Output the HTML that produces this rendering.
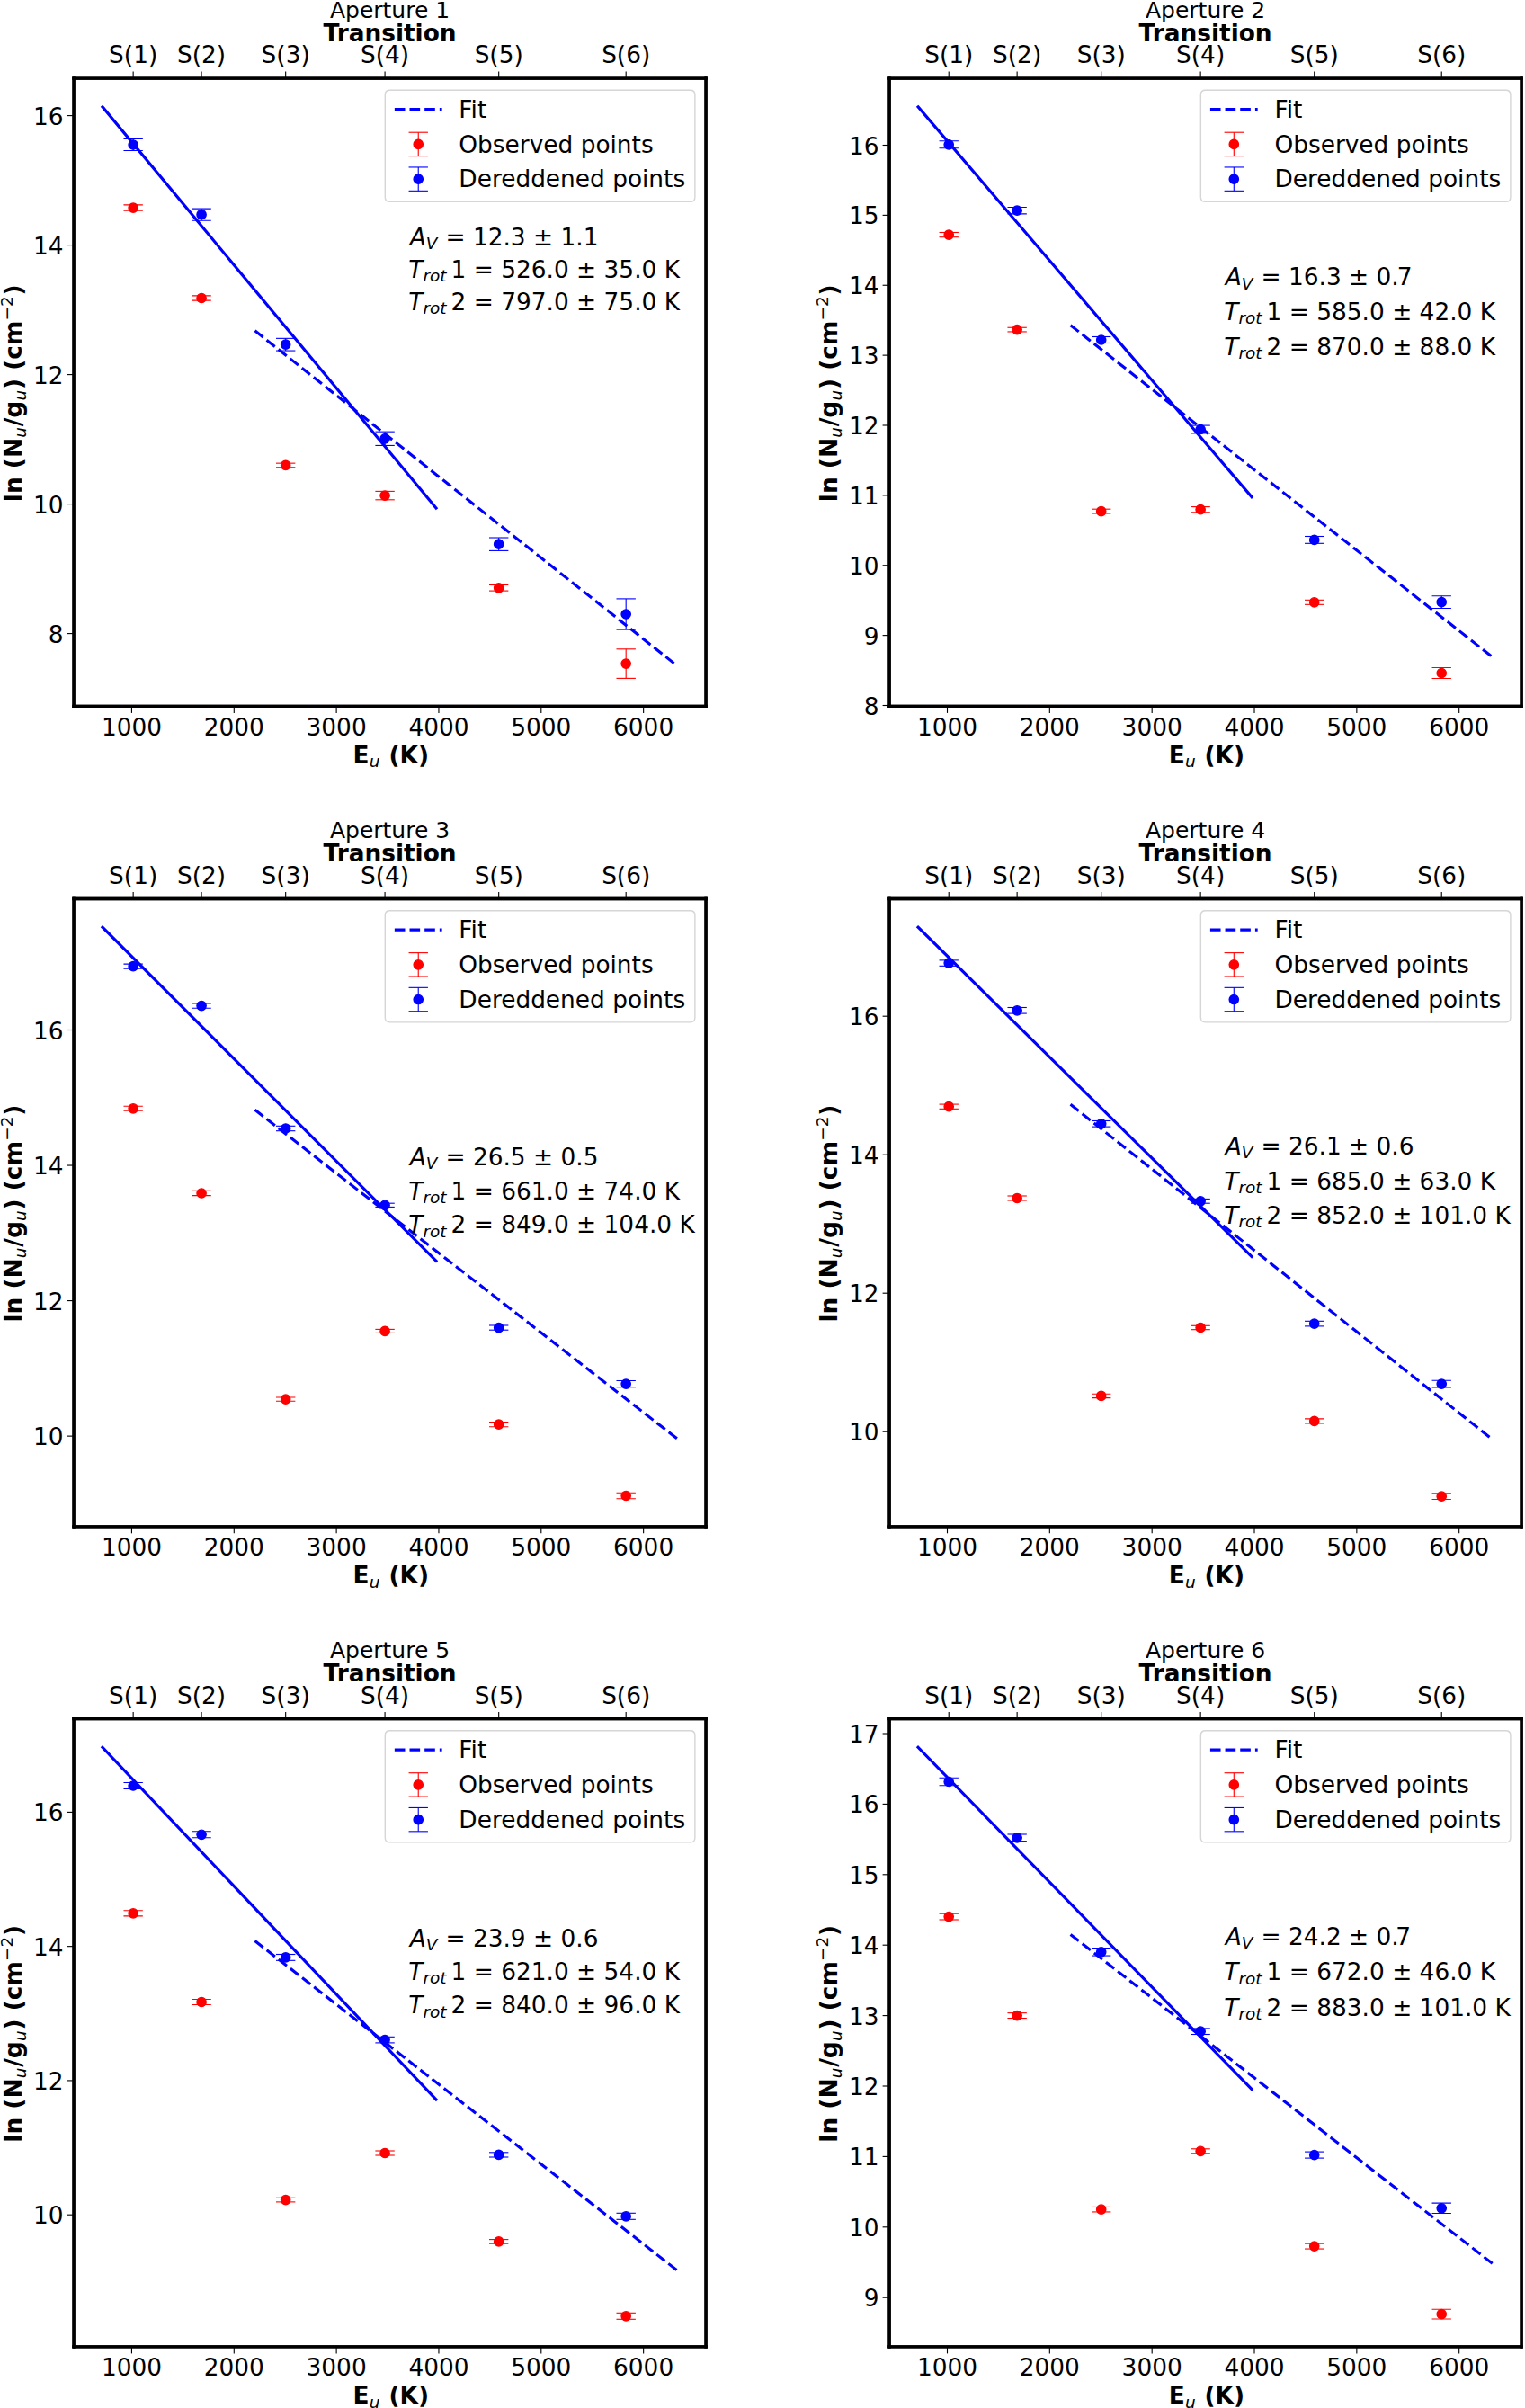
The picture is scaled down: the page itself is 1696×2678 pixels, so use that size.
<!DOCTYPE html>
<html lang="en"><head><meta charset="utf-8"><title>Rotation diagrams - Apertures 1-6</title>
<style>
html,body{margin:0;padding:0;background:#fff}
body{width:1696px;height:2678px;overflow:hidden}
svg{display:block}
svg text{font-family:"DejaVu Sans","Liberation Sans",sans-serif;white-space:pre}
</style></head><body>
<svg width="1696" height="2678" viewBox="0 0 1221.12 1928.16">
 <defs>
  <style type="text/css">*{stroke-linejoin: round; stroke-linecap: butt}</style>
 </defs>
 <g>
  <g>
   <path d="M 0 1928.16 L 1221.12 1928.16 L 1221.12 0 L 0 0 z" style="fill: #ffffff" />
  </g>
  <g>
   <g>
    <path d="M 59.08 565.49 L 565.24 565.49 L 565.24 62.71 L 59.08 62.71 z" style="fill: #ffffff" />
   </g>
   <g>
    <g>
     <g>
      <g>
       <path d="M105.44 565.49L105.44 570.89" style="stroke: #000000; stroke-width: 0.8" />
      </g>
     </g>
     <g>
      <text style="font-size: 19px; text-anchor: middle" x="105.44" y="588.83">1000</text>
     </g>
    </g>
    <g>
     <g>
      <g>
       <path d="M187.41 565.49L187.41 570.89" style="stroke: #000000; stroke-width: 0.8" />
      </g>
     </g>
     <g>
      <text style="font-size: 19px; text-anchor: middle" x="187.41" y="588.83">2000</text>
     </g>
    </g>
    <g>
     <g>
      <g>
       <path d="M269.37 565.49L269.37 570.89" style="stroke: #000000; stroke-width: 0.8" />
      </g>
     </g>
     <g>
      <text style="font-size: 19px; text-anchor: middle" x="269.37" y="588.83">3000</text>
     </g>
    </g>
    <g>
     <g>
      <g>
       <path d="M351.33 565.49L351.33 570.89" style="stroke: #000000; stroke-width: 0.8" />
      </g>
     </g>
     <g>
      <text style="font-size: 19px; text-anchor: middle" x="351.33" y="588.83">4000</text>
     </g>
    </g>
    <g>
     <g>
      <g>
       <path d="M433.3 565.49L433.3 570.89" style="stroke: #000000; stroke-width: 0.8" />
      </g>
     </g>
     <g>
      <text style="font-size: 19px; text-anchor: middle" x="433.3" y="588.83">5000</text>
     </g>
    </g>
    <g>
     <g>
      <g>
       <path d="M515.26 565.49L515.26 570.89" style="stroke: #000000; stroke-width: 0.8" />
      </g>
     </g>
     <g>
      <text style="font-size: 19px; text-anchor: middle" x="515.26" y="588.83">6000</text>
     </g>
    </g>
    <g>
     <g transform="translate(282.67 611.71)">
      <text><tspan x="0" y="-0.58" style="font-weight: 700; font-size: 19px">E</tspan><tspan x="22.11" y="-0.58" style="font-weight: 700; font-size: 19px"> (K)</tspan><tspan x="13.16" y="2.54" style="font-style: oblique; font-size: 13.3px">u</tspan></text>
     </g>
    </g>
   </g>
   <g>
    <g>
     <g>
      <g>
       <path d="M59.08 507.31L53.68 507.31" style="stroke: #000000; stroke-width: 0.8" />
      </g>
     </g>
     <g>
      <text style="font-size: 19px; text-anchor: end" x="50.78" y="514.53">8</text>
     </g>
    </g>
    <g>
     <g>
      <g>
       <path d="M59.08 403.63L53.68 403.63" style="stroke: #000000; stroke-width: 0.8" />
      </g>
     </g>
     <g>
      <text style="font-size: 19px; text-anchor: end" x="50.78" y="410.85">10</text>
     </g>
    </g>
    <g>
     <g>
      <g>
       <path d="M59.08 299.95L53.68 299.95" style="stroke: #000000; stroke-width: 0.8" />
      </g>
     </g>
     <g>
      <text style="font-size: 19px; text-anchor: end" x="50.78" y="307.17">12</text>
     </g>
    </g>
    <g>
     <g>
      <g>
       <path d="M59.08 196.27L53.68 196.27" style="stroke: #000000; stroke-width: 0.8" />
      </g>
     </g>
     <g>
      <text style="font-size: 19px; text-anchor: end" x="50.78" y="203.49">14</text>
     </g>
    </g>
    <g>
     <g>
      <g>
       <path d="M59.08 92.59L53.68 92.59" style="stroke: #000000; stroke-width: 0.8" />
      </g>
     </g>
     <g>
      <text style="font-size: 19px; text-anchor: end" x="50.78" y="99.81">16</text>
     </g>
    </g>
    <g>
     <g transform="translate(18.42 401.86) rotate(-90)">
      <text><tspan x="0" y="-0.85" style="font-weight: 700; font-size: 19px">ln (N</tspan><tspan x="60.37" y="-0.85" style="font-weight: 700; font-size: 19px">/g</tspan><tspan x="90.04" y="-0.85" style="font-weight: 700; font-size: 19px">) (cm</tspan><tspan x="165.39" y="-0.85" style="font-weight: 700; font-size: 19px">)</tspan><tspan x="51.42" y="2.27" style="font-style: oblique; font-size: 13.3px">u</tspan><tspan x="81.09" y="2.27" style="font-style: oblique; font-size: 13.3px">u</tspan><tspan x="145.26" y="-8.12" style="font-size: 13.3px">−2</tspan></text>
     </g>
    </g>
   </g>
   <g>
    <path d="M 106.67 168.7 L 106.67 164.09" clip-path="url(#p3b5efa5319)" style="fill: none; stroke: #ff0000; stroke-width: 0.8" />
    <path d="M 161.34 240.55 L 161.34 236.81" clip-path="url(#p3b5efa5319)" style="fill: none; stroke: #ff0000; stroke-width: 0.8" />
    <path d="M 228.72 374.22 L 228.72 370.91" clip-path="url(#p3b5efa5319)" style="fill: none; stroke: #ff0000; stroke-width: 0.8" />
    <path d="M 308.22 400.18 L 308.22 393.41" clip-path="url(#p3b5efa5319)" style="fill: none; stroke: #ff0000; stroke-width: 0.8" />
    <path d="M 399.37 473.11 L 399.37 468.36" clip-path="url(#p3b5efa5319)" style="fill: none; stroke: #ff0000; stroke-width: 0.8" />
    <path d="M 501.25 543.17 L 501.25 519.7" clip-path="url(#p3b5efa5319)" style="fill: none; stroke: #ff0000; stroke-width: 0.8" />
   </g>
   <g>
    <g clip-path="url(#p3b5efa5319)">
     <path d="M114.37 168.7L98.97 168.7" style="fill: #ff0000; stroke: #ff0000; stroke-width: 0.8" />
     <path d="M169.04 240.55L153.64 240.55" style="fill: #ff0000; stroke: #ff0000; stroke-width: 0.8" />
     <path d="M236.42 374.22L221.02 374.22" style="fill: #ff0000; stroke: #ff0000; stroke-width: 0.8" />
     <path d="M315.92 400.18L300.52 400.18" style="fill: #ff0000; stroke: #ff0000; stroke-width: 0.8" />
     <path d="M407.07 473.11L391.67 473.11" style="fill: #ff0000; stroke: #ff0000; stroke-width: 0.8" />
     <path d="M508.95 543.17L493.55 543.17" style="fill: #ff0000; stroke: #ff0000; stroke-width: 0.8" />
    </g>
   </g>
   <g>
    <g clip-path="url(#p3b5efa5319)">
     <path d="M114.37 164.09L98.97 164.09" style="fill: #ff0000; stroke: #ff0000; stroke-width: 0.8" />
     <path d="M169.04 236.81L153.64 236.81" style="fill: #ff0000; stroke: #ff0000; stroke-width: 0.8" />
     <path d="M236.42 370.91L221.02 370.91" style="fill: #ff0000; stroke: #ff0000; stroke-width: 0.8" />
     <path d="M315.92 393.41L300.52 393.41" style="fill: #ff0000; stroke: #ff0000; stroke-width: 0.8" />
     <path d="M407.07 468.36L391.67 468.36" style="fill: #ff0000; stroke: #ff0000; stroke-width: 0.8" />
     <path d="M508.95 519.7L493.55 519.7" style="fill: #ff0000; stroke: #ff0000; stroke-width: 0.8" />
    </g>
   </g>
   <g>
    <path d="M 106.67 120.6 L 106.67 111.24" clip-path="url(#p3b5efa5319)" style="fill: none; stroke: #0000ff; stroke-width: 0.8" />
    <path d="M 161.34 176.62 L 161.34 167.11" clip-path="url(#p3b5efa5319)" style="fill: none; stroke: #0000ff; stroke-width: 0.8" />
    <path d="M 228.72 280.84 L 228.72 270.97" clip-path="url(#p3b5efa5319)" style="fill: none; stroke: #0000ff; stroke-width: 0.8" />
    <path d="M 308.22 356.72 L 308.22 345.71" clip-path="url(#p3b5efa5319)" style="fill: none; stroke: #0000ff; stroke-width: 0.8" />
    <path d="M 399.37 440.93 L 399.37 430.56" clip-path="url(#p3b5efa5319)" style="fill: none; stroke: #0000ff; stroke-width: 0.8" />
    <path d="M 501.25 504.07 L 501.25 479.45" clip-path="url(#p3b5efa5319)" style="fill: none; stroke: #0000ff; stroke-width: 0.8" />
   </g>
   <g>
    <g clip-path="url(#p3b5efa5319)">
     <path d="M114.37 120.6L98.97 120.6" style="fill: #0000ff; stroke: #0000ff; stroke-width: 0.8" />
     <path d="M169.04 176.62L153.64 176.62" style="fill: #0000ff; stroke: #0000ff; stroke-width: 0.8" />
     <path d="M236.42 280.84L221.02 280.84" style="fill: #0000ff; stroke: #0000ff; stroke-width: 0.8" />
     <path d="M315.92 356.72L300.52 356.72" style="fill: #0000ff; stroke: #0000ff; stroke-width: 0.8" />
     <path d="M407.07 440.93L391.67 440.93" style="fill: #0000ff; stroke: #0000ff; stroke-width: 0.8" />
     <path d="M508.95 504.07L493.55 504.07" style="fill: #0000ff; stroke: #0000ff; stroke-width: 0.8" />
    </g>
   </g>
   <g>
    <g clip-path="url(#p3b5efa5319)">
     <path d="M114.37 111.24L98.97 111.24" style="fill: #0000ff; stroke: #0000ff; stroke-width: 0.8" />
     <path d="M169.04 167.11L153.64 167.11" style="fill: #0000ff; stroke: #0000ff; stroke-width: 0.8" />
     <path d="M236.42 270.97L221.02 270.97" style="fill: #0000ff; stroke: #0000ff; stroke-width: 0.8" />
     <path d="M315.92 345.71L300.52 345.71" style="fill: #0000ff; stroke: #0000ff; stroke-width: 0.8" />
     <path d="M407.07 430.56L391.67 430.56" style="fill: #0000ff; stroke: #0000ff; stroke-width: 0.8" />
     <path d="M508.95 479.45L493.55 479.45" style="fill: #0000ff; stroke: #0000ff; stroke-width: 0.8" />
    </g>
   </g>
   <g>
    <path d="M 82.08 85.57 L 349.2 406.76" clip-path="url(#p3b5efa5319)" style="fill: none; stroke: #0000ff; stroke-width: 2.264; stroke-linecap: square" />
   </g>
   <g>
    <path d="M 204.13 264.82 L 542.23 533.12" clip-path="url(#p3b5efa5319)" style="fill: none; stroke-dasharray: 8.3768,3.6224; stroke-dashoffset: 0; stroke: #0000ff; stroke-width: 2.264" />
   </g>
   <g>
    <g clip-path="url(#p3b5efa5319)">
     <circle cx="106.67" cy="166.39" r="3.7" style="fill: #ff0000; stroke: #ff0000" />
     <circle cx="161.34" cy="238.68" r="3.7" style="fill: #ff0000; stroke: #ff0000" />
     <circle cx="228.72" cy="372.56" r="3.7" style="fill: #ff0000; stroke: #ff0000" />
     <circle cx="308.22" cy="396.79" r="3.7" style="fill: #ff0000; stroke: #ff0000" />
     <circle cx="399.37" cy="470.74" r="3.7" style="fill: #ff0000; stroke: #ff0000" />
     <circle cx="501.25" cy="531.43" r="3.7" style="fill: #ff0000; stroke: #ff0000" />
    </g>
   </g>
   <g>
    <g clip-path="url(#p3b5efa5319)">
     <circle cx="106.67" cy="115.92" r="3.7" style="fill: #0000ff; stroke: #0000ff" />
     <circle cx="161.34" cy="171.86" r="3.7" style="fill: #0000ff; stroke: #0000ff" />
     <circle cx="228.72" cy="275.9" r="3.7" style="fill: #0000ff; stroke: #0000ff" />
     <circle cx="308.22" cy="351.22" r="3.7" style="fill: #0000ff; stroke: #0000ff" />
     <circle cx="399.37" cy="435.74" r="3.7" style="fill: #0000ff; stroke: #0000ff" />
     <circle cx="501.25" cy="491.76" r="3.7" style="fill: #0000ff; stroke: #0000ff" />
    </g>
   </g>
   <g>
    <path d="M 59.08 565.49 L 59.08 62.71" style="fill: none; stroke: #000000; stroke-width: 2.35; stroke-linejoin: miter; stroke-linecap: square" />
   </g>
   <g>
    <path d="M 565.24 565.49 L 565.24 62.71" style="fill: none; stroke: #000000; stroke-width: 2.35; stroke-linejoin: miter; stroke-linecap: square" />
   </g>
   <g>
    <path d="M 59.08 565.49 L 565.24 565.49" style="fill: none; stroke: #000000; stroke-width: 2.35; stroke-linejoin: miter; stroke-linecap: square" />
   </g>
   <g>
    <path d="M 59.08 62.71 L 565.24 62.71" style="fill: none; stroke: #000000; stroke-width: 2.35; stroke-linejoin: miter; stroke-linecap: square" />
   </g>
   <g>
    <g transform="translate(328.05 197.12)">
     <text><tspan x="0" y="-0.89" style="font-style: oblique; font-size: 19px">A</tspan><tspan x="13" y="2.23" style="font-style: oblique; font-size: 13.3px">V</tspan><tspan x="22.62" y="-0.89" style="font-size: 19px"> = 12.3 ± 1.1</tspan></text>
    </g>
   </g>
   <g>
    <g transform="translate(327.1 223.04)">
     <text><tspan x="0" y="-0.89" style="font-style: oblique; font-size: 19px">T</tspan><tspan x="11.61" y="2.23" style="font-style: oblique; font-size: 13.3px">rot</tspan><tspan x="34.03" y="-0.89" style="font-size: 19px">1 = 526.0 ± 35.0 K</tspan></text>
    </g>
   </g>
   <g>
    <g transform="translate(327.1 248.96)">
     <text><tspan x="0" y="-0.89" style="font-style: oblique; font-size: 19px">T</tspan><tspan x="11.61" y="2.23" style="font-style: oblique; font-size: 13.3px">rot</tspan><tspan x="34.03" y="-0.89" style="font-size: 19px">2 = 797.0 ± 75.0 K</tspan></text>
    </g>
   </g>
   <g>
    <text style="font-size: 18px; text-anchor: middle" x="312.16" y="14.04">Aperture 1</text>
   </g>
   <g>
    <g>
     <path d="M 312.17 161.58 L 552.66 161.58 Q 556.46 161.58 556.46 157.78 L 556.46 76.01 Q 556.46 72.21 552.66 72.21 L 312.17 72.21 Q 308.37 72.21 308.37 76.01 L 308.37 157.78 Q 308.37 161.58 312.17 161.58 z" style="fill: #ffffff; opacity: 0.8; stroke: #cccccc; stroke-linejoin: miter" />
    </g>
    <g>
     <path d="M 315.97 87.6 L 334.97 87.6 L 353.97 87.6" style="fill: none; stroke-dasharray: 8.3768,3.6224; stroke-dashoffset: 0; stroke: #0000ff; stroke-width: 2.264" />
    </g>
    <g>
     <text style="font-size: 19px; text-anchor: start" x="367.46" y="94.25">Fit</text>
    </g>
    <g>
     <path d="M 334.97 124.99 L 334.97 105.99" style="fill: none; stroke: #ff0000; stroke-width: 0.8" />
    </g>
    <g>
     <g>
      <path d="M342.67 124.99L327.27 124.99" style="fill: #ff0000; stroke: #ff0000; stroke-width: 0.8" />
     </g>
    </g>
    <g>
     <g>
      <path d="M342.67 105.99L327.27 105.99" style="fill: #ff0000; stroke: #ff0000; stroke-width: 0.8" />
     </g>
    </g>
    <g />
    <g>
     <g>
      <circle cx="334.97" cy="115.49" r="3.7" style="fill: #ff0000; stroke: #ff0000" />
     </g>
    </g>
    <g>
     <text style="font-size: 19px; text-anchor: start" x="367.46" y="122.14">Observed points</text>
    </g>
    <g>
     <path d="M 334.97 152.88 L 334.97 133.88" style="fill: none; stroke: #0000ff; stroke-width: 0.8" />
    </g>
    <g>
     <g>
      <path d="M342.67 152.88L327.27 152.88" style="fill: #0000ff; stroke: #0000ff; stroke-width: 0.8" />
     </g>
    </g>
    <g>
     <g>
      <path d="M342.67 133.88L327.27 133.88" style="fill: #0000ff; stroke: #0000ff; stroke-width: 0.8" />
     </g>
    </g>
    <g />
    <g>
     <g>
      <circle cx="334.97" cy="143.38" r="3.7" style="fill: #0000ff; stroke: #0000ff" />
     </g>
    </g>
    <g>
     <text style="font-size: 19px; text-anchor: start" x="367.46" y="150.03">Dereddened points</text>
    </g>
   </g>
  </g>
  <g>
   <g>
    <g>
     <g>
      <g>
       <path d="M106.67 62.71L106.67 57.31" style="stroke: #000000; stroke-width: 0.8" />
      </g>
     </g>
     <g>
      <text style="font-size: 19px; text-anchor: middle" x="106.67" y="50.61">S(1)</text>
     </g>
    </g>
    <g>
     <g>
      <g>
       <path d="M161.34 62.71L161.34 57.31" style="stroke: #000000; stroke-width: 0.8" />
      </g>
     </g>
     <g>
      <text style="font-size: 19px; text-anchor: middle" x="161.34" y="50.61">S(2)</text>
     </g>
    </g>
    <g>
     <g>
      <g>
       <path d="M228.72 62.71L228.72 57.31" style="stroke: #000000; stroke-width: 0.8" />
      </g>
     </g>
     <g>
      <text style="font-size: 19px; text-anchor: middle" x="228.72" y="50.61">S(3)</text>
     </g>
    </g>
    <g>
     <g>
      <g>
       <path d="M308.22 62.71L308.22 57.31" style="stroke: #000000; stroke-width: 0.8" />
      </g>
     </g>
     <g>
      <text style="font-size: 19px; text-anchor: middle" x="308.22" y="50.61">S(4)</text>
     </g>
    </g>
    <g>
     <g>
      <g>
       <path d="M399.37 62.71L399.37 57.31" style="stroke: #000000; stroke-width: 0.8" />
      </g>
     </g>
     <g>
      <text style="font-size: 19px; text-anchor: middle" x="399.37" y="50.61">S(5)</text>
     </g>
    </g>
    <g>
     <g>
      <g>
       <path d="M501.25 62.71L501.25 57.31" style="stroke: #000000; stroke-width: 0.8" />
      </g>
     </g>
     <g>
      <text style="font-size: 19px; text-anchor: middle" x="501.25" y="50.61">S(6)</text>
     </g>
    </g>
    <g>
     <text style="font-weight: 700; font-size: 19px; text-anchor: middle" x="312.16" y="33.04">Transition</text>
    </g>
   </g>
   <g>
    <path d="M 59.08 565.49 L 59.08 62.71" style="fill: none; stroke: #000000; stroke-width: 2.35; stroke-linejoin: miter; stroke-linecap: square" />
   </g>
   <g>
    <path d="M 565.24 565.49 L 565.24 62.71" style="fill: none; stroke: #000000; stroke-width: 2.35; stroke-linejoin: miter; stroke-linecap: square" />
   </g>
   <g>
    <path d="M 59.08 565.49 L 565.24 565.49" style="fill: none; stroke: #000000; stroke-width: 2.35; stroke-linejoin: miter; stroke-linecap: square" />
   </g>
   <g>
    <path d="M 59.08 62.71 L 565.24 62.71" style="fill: none; stroke: #000000; stroke-width: 2.35; stroke-linejoin: miter; stroke-linecap: square" />
   </g>
  </g>
  <g>
   <g>
    <path d="M 712.15 565.49 L 1218.31 565.49 L 1218.31 62.71 L 712.15 62.71 z" style="fill: #ffffff" />
   </g>
   <g>
    <g>
     <g>
      <g>
       <path d="M758.52 565.49L758.52 570.89" style="stroke: #000000; stroke-width: 0.8" />
      </g>
     </g>
     <g>
      <text style="font-size: 19px; text-anchor: middle" x="758.52" y="588.83">1000</text>
     </g>
    </g>
    <g>
     <g>
      <g>
       <path d="M840.48 565.49L840.48 570.89" style="stroke: #000000; stroke-width: 0.8" />
      </g>
     </g>
     <g>
      <text style="font-size: 19px; text-anchor: middle" x="840.48" y="588.83">2000</text>
     </g>
    </g>
    <g>
     <g>
      <g>
       <path d="M922.45 565.49L922.45 570.89" style="stroke: #000000; stroke-width: 0.8" />
      </g>
     </g>
     <g>
      <text style="font-size: 19px; text-anchor: middle" x="922.45" y="588.83">3000</text>
     </g>
    </g>
    <g>
     <g>
      <g>
       <path d="M1004.41 565.49L1004.41 570.89" style="stroke: #000000; stroke-width: 0.8" />
      </g>
     </g>
     <g>
      <text style="font-size: 19px; text-anchor: middle" x="1004.41" y="588.83">4000</text>
     </g>
    </g>
    <g>
     <g>
      <g>
       <path d="M1086.37 565.49L1086.37 570.89" style="stroke: #000000; stroke-width: 0.8" />
      </g>
     </g>
     <g>
      <text style="font-size: 19px; text-anchor: middle" x="1086.37" y="588.83">5000</text>
     </g>
    </g>
    <g>
     <g>
      <g>
       <path d="M1168.34 565.49L1168.34 570.89" style="stroke: #000000; stroke-width: 0.8" />
      </g>
     </g>
     <g>
      <text style="font-size: 19px; text-anchor: middle" x="1168.34" y="588.83">6000</text>
     </g>
    </g>
    <g>
     <g transform="translate(935.75 611.71)">
      <text><tspan x="0" y="-0.58" style="font-weight: 700; font-size: 19px">E</tspan><tspan x="22.11" y="-0.58" style="font-weight: 700; font-size: 19px"> (K)</tspan><tspan x="13.16" y="2.54" style="font-style: oblique; font-size: 13.3px">u</tspan></text>
     </g>
    </g>
   </g>
   <g>
    <g>
     <g>
      <g>
       <path d="M712.15 564.84L706.75 564.84" style="stroke: #000000; stroke-width: 0.8" />
      </g>
     </g>
     <g>
      <text style="font-size: 19px; text-anchor: end" x="703.85" y="572.06">8</text>
     </g>
    </g>
    <g>
     <g>
      <g>
       <path d="M712.15 508.77L706.75 508.77" style="stroke: #000000; stroke-width: 0.8" />
      </g>
     </g>
     <g>
      <text style="font-size: 19px; text-anchor: end" x="703.85" y="515.99">9</text>
     </g>
    </g>
    <g>
     <g>
      <g>
       <path d="M712.15 452.7L706.75 452.7" style="stroke: #000000; stroke-width: 0.8" />
      </g>
     </g>
     <g>
      <text style="font-size: 19px; text-anchor: end" x="703.85" y="459.92">10</text>
     </g>
    </g>
    <g>
     <g>
      <g>
       <path d="M712.15 396.63L706.75 396.63" style="stroke: #000000; stroke-width: 0.8" />
      </g>
     </g>
     <g>
      <text style="font-size: 19px; text-anchor: end" x="703.85" y="403.85">11</text>
     </g>
    </g>
    <g>
     <g>
      <g>
       <path d="M712.15 340.56L706.75 340.56" style="stroke: #000000; stroke-width: 0.8" />
      </g>
     </g>
     <g>
      <text style="font-size: 19px; text-anchor: end" x="703.85" y="347.78">12</text>
     </g>
    </g>
    <g>
     <g>
      <g>
       <path d="M712.15 284.49L706.75 284.49" style="stroke: #000000; stroke-width: 0.8" />
      </g>
     </g>
     <g>
      <text style="font-size: 19px; text-anchor: end" x="703.85" y="291.71">13</text>
     </g>
    </g>
    <g>
     <g>
      <g>
       <path d="M712.15 228.42L706.75 228.42" style="stroke: #000000; stroke-width: 0.8" />
      </g>
     </g>
     <g>
      <text style="font-size: 19px; text-anchor: end" x="703.85" y="235.64">14</text>
     </g>
    </g>
    <g>
     <g>
      <g>
       <path d="M712.15 172.35L706.75 172.35" style="stroke: #000000; stroke-width: 0.8" />
      </g>
     </g>
     <g>
      <text style="font-size: 19px; text-anchor: end" x="703.85" y="179.57">15</text>
     </g>
    </g>
    <g>
     <g>
      <g>
       <path d="M712.15 116.28L706.75 116.28" style="stroke: #000000; stroke-width: 0.8" />
      </g>
     </g>
     <g>
      <text style="font-size: 19px; text-anchor: end" x="703.85" y="123.5">16</text>
     </g>
    </g>
    <g>
     <g transform="translate(671.49 401.86) rotate(-90)">
      <text><tspan x="0" y="-0.85" style="font-weight: 700; font-size: 19px">ln (N</tspan><tspan x="60.37" y="-0.85" style="font-weight: 700; font-size: 19px">/g</tspan><tspan x="90.04" y="-0.85" style="font-weight: 700; font-size: 19px">) (cm</tspan><tspan x="165.39" y="-0.85" style="font-weight: 700; font-size: 19px">)</tspan><tspan x="51.42" y="2.27" style="font-style: oblique; font-size: 13.3px">u</tspan><tspan x="81.09" y="2.27" style="font-style: oblique; font-size: 13.3px">u</tspan><tspan x="145.26" y="-8.12" style="font-size: 13.3px">−2</tspan></text>
     </g>
    </g>
   </g>
   <g>
    <path d="M 759.75 189.86 L 759.75 186.12" clip-path="url(#pbabdf00de8)" style="fill: none; stroke: #ff0000; stroke-width: 0.8" />
    <path d="M 814.42 265.64 L 814.42 262.26" clip-path="url(#pbabdf00de8)" style="fill: none; stroke: #ff0000; stroke-width: 0.8" />
    <path d="M 881.79 411.12 L 881.79 407.66" clip-path="url(#pbabdf00de8)" style="fill: none; stroke: #ff0000; stroke-width: 0.8" />
    <path d="M 961.3 410.26 L 961.3 405.79" clip-path="url(#pbabdf00de8)" style="fill: none; stroke: #ff0000; stroke-width: 0.8" />
    <path d="M 1052.44 484.06 L 1052.44 480.46" clip-path="url(#pbabdf00de8)" style="fill: none; stroke: #ff0000; stroke-width: 0.8" />
    <path d="M 1154.32 543.28 L 1154.32 534.56" clip-path="url(#pbabdf00de8)" style="fill: none; stroke: #ff0000; stroke-width: 0.8" />
   </g>
   <g>
    <g clip-path="url(#pbabdf00de8)">
     <path d="M767.45 189.86L752.05 189.86" style="fill: #ff0000; stroke: #ff0000; stroke-width: 0.8" />
     <path d="M822.12 265.64L806.72 265.64" style="fill: #ff0000; stroke: #ff0000; stroke-width: 0.8" />
     <path d="M889.49 411.12L874.09 411.12" style="fill: #ff0000; stroke: #ff0000; stroke-width: 0.8" />
     <path d="M969 410.26L953.6 410.26" style="fill: #ff0000; stroke: #ff0000; stroke-width: 0.8" />
     <path d="M1060.14 484.06L1044.74 484.06" style="fill: #ff0000; stroke: #ff0000; stroke-width: 0.8" />
     <path d="M1162.02 543.28L1146.62 543.28" style="fill: #ff0000; stroke: #ff0000; stroke-width: 0.8" />
    </g>
   </g>
   <g>
    <g clip-path="url(#pbabdf00de8)">
     <path d="M767.45 186.12L752.05 186.12" style="fill: #ff0000; stroke: #ff0000; stroke-width: 0.8" />
     <path d="M822.12 262.26L806.72 262.26" style="fill: #ff0000; stroke: #ff0000; stroke-width: 0.8" />
     <path d="M889.49 407.66L874.09 407.66" style="fill: #ff0000; stroke: #ff0000; stroke-width: 0.8" />
     <path d="M969 405.79L953.6 405.79" style="fill: #ff0000; stroke: #ff0000; stroke-width: 0.8" />
     <path d="M1060.14 480.46L1044.74 480.46" style="fill: #ff0000; stroke: #ff0000; stroke-width: 0.8" />
     <path d="M1162.02 534.56L1146.62 534.56" style="fill: #ff0000; stroke: #ff0000; stroke-width: 0.8" />
    </g>
   </g>
   <g>
    <path d="M 759.75 118.66 L 759.75 112.9" clip-path="url(#pbabdf00de8)" style="fill: none; stroke: #0000ff; stroke-width: 0.8" />
    <path d="M 814.42 171.25 L 814.42 166" clip-path="url(#pbabdf00de8)" style="fill: none; stroke: #0000ff; stroke-width: 0.8" />
    <path d="M 881.79 274.68 L 881.79 269.64" clip-path="url(#pbabdf00de8)" style="fill: none; stroke: #0000ff; stroke-width: 0.8" />
    <path d="M 961.3 346.97 L 961.3 340.63" clip-path="url(#pbabdf00de8)" style="fill: none; stroke: #0000ff; stroke-width: 0.8" />
    <path d="M 1052.44 435.1 L 1052.44 429.48" clip-path="url(#pbabdf00de8)" style="fill: none; stroke: #0000ff; stroke-width: 0.8" />
    <path d="M 1154.32 487.04 L 1154.32 477.18" clip-path="url(#pbabdf00de8)" style="fill: none; stroke: #0000ff; stroke-width: 0.8" />
   </g>
   <g>
    <g clip-path="url(#pbabdf00de8)">
     <path d="M767.45 118.66L752.05 118.66" style="fill: #0000ff; stroke: #0000ff; stroke-width: 0.8" />
     <path d="M822.12 171.25L806.72 171.25" style="fill: #0000ff; stroke: #0000ff; stroke-width: 0.8" />
     <path d="M889.49 274.68L874.09 274.68" style="fill: #0000ff; stroke: #0000ff; stroke-width: 0.8" />
     <path d="M969 346.97L953.6 346.97" style="fill: #0000ff; stroke: #0000ff; stroke-width: 0.8" />
     <path d="M1060.14 435.1L1044.74 435.1" style="fill: #0000ff; stroke: #0000ff; stroke-width: 0.8" />
     <path d="M1162.02 487.04L1146.62 487.04" style="fill: #0000ff; stroke: #0000ff; stroke-width: 0.8" />
    </g>
   </g>
   <g>
    <g clip-path="url(#pbabdf00de8)">
     <path d="M767.45 112.9L752.05 112.9" style="fill: #0000ff; stroke: #0000ff; stroke-width: 0.8" />
     <path d="M822.12 166L806.72 166" style="fill: #0000ff; stroke: #0000ff; stroke-width: 0.8" />
     <path d="M889.49 269.64L874.09 269.64" style="fill: #0000ff; stroke: #0000ff; stroke-width: 0.8" />
     <path d="M969 340.63L953.6 340.63" style="fill: #0000ff; stroke: #0000ff; stroke-width: 0.8" />
     <path d="M1060.14 429.48L1044.74 429.48" style="fill: #0000ff; stroke: #0000ff; stroke-width: 0.8" />
     <path d="M1162.02 477.18L1146.62 477.18" style="fill: #0000ff; stroke: #0000ff; stroke-width: 0.8" />
    </g>
   </g>
   <g>
    <path d="M 735.16 85.57 L 1002.28 397.93" clip-path="url(#pbabdf00de8)" style="fill: none; stroke: #0000ff; stroke-width: 2.264; stroke-linecap: square" />
   </g>
   <g>
    <path d="M 857.2 260.42 L 1195.3 526.27" clip-path="url(#pbabdf00de8)" style="fill: none; stroke-dasharray: 8.3768,3.6224; stroke-dashoffset: 0; stroke: #0000ff; stroke-width: 2.264" />
   </g>
   <g>
    <g clip-path="url(#pbabdf00de8)">
     <circle cx="759.75" cy="187.99" r="3.7" style="fill: #ff0000; stroke: #ff0000" />
     <circle cx="814.42" cy="263.95" r="3.7" style="fill: #ff0000; stroke: #ff0000" />
     <circle cx="881.79" cy="409.39" r="3.7" style="fill: #ff0000; stroke: #ff0000" />
     <circle cx="961.3" cy="408.02" r="3.7" style="fill: #ff0000; stroke: #ff0000" />
     <circle cx="1052.44" cy="482.26" r="3.7" style="fill: #ff0000; stroke: #ff0000" />
     <circle cx="1154.32" cy="538.92" r="3.7" style="fill: #ff0000; stroke: #ff0000" />
    </g>
   </g>
   <g>
    <g clip-path="url(#pbabdf00de8)">
     <circle cx="759.75" cy="115.78" r="3.7" style="fill: #0000ff; stroke: #0000ff" />
     <circle cx="814.42" cy="168.62" r="3.7" style="fill: #0000ff; stroke: #0000ff" />
     <circle cx="881.79" cy="272.16" r="3.7" style="fill: #0000ff; stroke: #0000ff" />
     <circle cx="961.3" cy="343.8" r="3.7" style="fill: #0000ff; stroke: #0000ff" />
     <circle cx="1052.44" cy="432.29" r="3.7" style="fill: #0000ff; stroke: #0000ff" />
     <circle cx="1154.32" cy="482.11" r="3.7" style="fill: #0000ff; stroke: #0000ff" />
    </g>
   </g>
   <g>
    <path d="M 712.15 565.49 L 712.15 62.71" style="fill: none; stroke: #000000; stroke-width: 2.35; stroke-linejoin: miter; stroke-linecap: square" />
   </g>
   <g>
    <path d="M 1218.31 565.49 L 1218.31 62.71" style="fill: none; stroke: #000000; stroke-width: 2.35; stroke-linejoin: miter; stroke-linecap: square" />
   </g>
   <g>
    <path d="M 712.15 565.49 L 1218.31 565.49" style="fill: none; stroke: #000000; stroke-width: 2.35; stroke-linejoin: miter; stroke-linecap: square" />
   </g>
   <g>
    <path d="M 712.15 62.71 L 1218.31 62.71" style="fill: none; stroke: #000000; stroke-width: 2.35; stroke-linejoin: miter; stroke-linecap: square" />
   </g>
   <g>
    <g transform="translate(981.12 229.27)">
     <text><tspan x="0" y="-0.89" style="font-style: oblique; font-size: 19px">A</tspan><tspan x="13" y="2.23" style="font-style: oblique; font-size: 13.3px">V</tspan><tspan x="22.62" y="-0.89" style="font-size: 19px"> = 16.3 ± 0.</tspan><tspan x="137.55" y="-0.89" style="font-size: 19px">7</tspan></text>
    </g>
   </g>
   <g>
    <g transform="translate(980.17 257.31)">
     <text><tspan x="0" y="-0.89" style="font-style: oblique; font-size: 19px">T</tspan><tspan x="11.61" y="2.23" style="font-style: oblique; font-size: 13.3px">rot</tspan><tspan x="34.03" y="-0.89" style="font-size: 19px">1 = 585.0 ± 42.0 K</tspan></text>
    </g>
   </g>
   <g>
    <g transform="translate(980.17 285.34)">
     <text><tspan x="0" y="-0.89" style="font-style: oblique; font-size: 19px">T</tspan><tspan x="11.61" y="2.23" style="font-style: oblique; font-size: 13.3px">rot</tspan><tspan x="34.03" y="-0.89" style="font-size: 19px">2 = 870.0 ± 88.0 K</tspan></text>
    </g>
   </g>
   <g>
    <text style="font-size: 18px; text-anchor: middle" x="965.23" y="14.04">Aperture 2</text>
   </g>
   <g>
    <g>
     <path d="M 965.25 161.58 L 1205.73 161.58 Q 1209.53 161.58 1209.53 157.78 L 1209.53 76.01 Q 1209.53 72.21 1205.73 72.21 L 965.25 72.21 Q 961.45 72.21 961.45 76.01 L 961.45 157.78 Q 961.45 161.58 965.25 161.58 z" style="fill: #ffffff; opacity: 0.8; stroke: #cccccc; stroke-linejoin: miter" />
    </g>
    <g>
     <path d="M 969.05 87.6 L 988.05 87.6 L 1007.05 87.6" style="fill: none; stroke-dasharray: 8.3768,3.6224; stroke-dashoffset: 0; stroke: #0000ff; stroke-width: 2.264" />
    </g>
    <g>
     <text style="font-size: 19px; text-anchor: start" x="1020.54" y="94.25">Fit</text>
    </g>
    <g>
     <path d="M 988.05 124.99 L 988.05 105.99" style="fill: none; stroke: #ff0000; stroke-width: 0.8" />
    </g>
    <g>
     <g>
      <path d="M995.75 124.99L980.35 124.99" style="fill: #ff0000; stroke: #ff0000; stroke-width: 0.8" />
     </g>
    </g>
    <g>
     <g>
      <path d="M995.75 105.99L980.35 105.99" style="fill: #ff0000; stroke: #ff0000; stroke-width: 0.8" />
     </g>
    </g>
    <g />
    <g>
     <g>
      <circle cx="988.05" cy="115.49" r="3.7" style="fill: #ff0000; stroke: #ff0000" />
     </g>
    </g>
    <g>
     <text style="font-size: 19px; text-anchor: start" x="1020.54" y="122.14">Observed points</text>
    </g>
    <g>
     <path d="M 988.05 152.88 L 988.05 133.88" style="fill: none; stroke: #0000ff; stroke-width: 0.8" />
    </g>
    <g>
     <g>
      <path d="M995.75 152.88L980.35 152.88" style="fill: #0000ff; stroke: #0000ff; stroke-width: 0.8" />
     </g>
    </g>
    <g>
     <g>
      <path d="M995.75 133.88L980.35 133.88" style="fill: #0000ff; stroke: #0000ff; stroke-width: 0.8" />
     </g>
    </g>
    <g />
    <g>
     <g>
      <circle cx="988.05" cy="143.38" r="3.7" style="fill: #0000ff; stroke: #0000ff" />
     </g>
    </g>
    <g>
     <text style="font-size: 19px; text-anchor: start" x="1020.54" y="150.03">Dereddened points</text>
    </g>
   </g>
  </g>
  <g>
   <g>
    <g>
     <g>
      <g>
       <path d="M759.75 62.71L759.75 57.31" style="stroke: #000000; stroke-width: 0.8" />
      </g>
     </g>
     <g>
      <text style="font-size: 19px; text-anchor: middle" x="759.75" y="50.61">S(1)</text>
     </g>
    </g>
    <g>
     <g>
      <g>
       <path d="M814.42 62.71L814.42 57.31" style="stroke: #000000; stroke-width: 0.8" />
      </g>
     </g>
     <g>
      <text style="font-size: 19px; text-anchor: middle" x="814.42" y="50.61">S(2)</text>
     </g>
    </g>
    <g>
     <g>
      <g>
       <path d="M881.79 62.71L881.79 57.31" style="stroke: #000000; stroke-width: 0.8" />
      </g>
     </g>
     <g>
      <text style="font-size: 19px; text-anchor: middle" x="881.79" y="50.61">S(3)</text>
     </g>
    </g>
    <g>
     <g>
      <g>
       <path d="M961.3 62.71L961.3 57.31" style="stroke: #000000; stroke-width: 0.8" />
      </g>
     </g>
     <g>
      <text style="font-size: 19px; text-anchor: middle" x="961.3" y="50.61">S(4)</text>
     </g>
    </g>
    <g>
     <g>
      <g>
       <path d="M1052.44 62.71L1052.44 57.31" style="stroke: #000000; stroke-width: 0.8" />
      </g>
     </g>
     <g>
      <text style="font-size: 19px; text-anchor: middle" x="1052.44" y="50.61">S(5)</text>
     </g>
    </g>
    <g>
     <g>
      <g>
       <path d="M1154.32 62.71L1154.32 57.31" style="stroke: #000000; stroke-width: 0.8" />
      </g>
     </g>
     <g>
      <text style="font-size: 19px; text-anchor: middle" x="1154.32" y="50.61">S(6)</text>
     </g>
    </g>
    <g>
     <text style="font-weight: 700; font-size: 19px; text-anchor: middle" x="965.23" y="33.04">Transition</text>
    </g>
   </g>
   <g>
    <path d="M 712.15 565.49 L 712.15 62.71" style="fill: none; stroke: #000000; stroke-width: 2.35; stroke-linejoin: miter; stroke-linecap: square" />
   </g>
   <g>
    <path d="M 1218.31 565.49 L 1218.31 62.71" style="fill: none; stroke: #000000; stroke-width: 2.35; stroke-linejoin: miter; stroke-linecap: square" />
   </g>
   <g>
    <path d="M 712.15 565.49 L 1218.31 565.49" style="fill: none; stroke: #000000; stroke-width: 2.35; stroke-linejoin: miter; stroke-linecap: square" />
   </g>
   <g>
    <path d="M 712.15 62.71 L 1218.31 62.71" style="fill: none; stroke: #000000; stroke-width: 2.35; stroke-linejoin: miter; stroke-linecap: square" />
   </g>
  </g>
  <g>
   <g>
    <path d="M 59.08 1222.42 L 565.24 1222.42 L 565.24 719.64 L 59.08 719.64 z" style="fill: #ffffff" />
   </g>
   <g>
    <g>
     <g>
      <g>
       <path d="M105.44 1222.42L105.44 1227.82" style="stroke: #000000; stroke-width: 0.8" />
      </g>
     </g>
     <g>
      <text style="font-size: 19px; text-anchor: middle" x="105.44" y="1245.75">1000</text>
     </g>
    </g>
    <g>
     <g>
      <g>
       <path d="M187.41 1222.42L187.41 1227.82" style="stroke: #000000; stroke-width: 0.8" />
      </g>
     </g>
     <g>
      <text style="font-size: 19px; text-anchor: middle" x="187.41" y="1245.75">2000</text>
     </g>
    </g>
    <g>
     <g>
      <g>
       <path d="M269.37 1222.42L269.37 1227.82" style="stroke: #000000; stroke-width: 0.8" />
      </g>
     </g>
     <g>
      <text style="font-size: 19px; text-anchor: middle" x="269.37" y="1245.75">3000</text>
     </g>
    </g>
    <g>
     <g>
      <g>
       <path d="M351.33 1222.42L351.33 1227.82" style="stroke: #000000; stroke-width: 0.8" />
      </g>
     </g>
     <g>
      <text style="font-size: 19px; text-anchor: middle" x="351.33" y="1245.75">4000</text>
     </g>
    </g>
    <g>
     <g>
      <g>
       <path d="M433.3 1222.42L433.3 1227.82" style="stroke: #000000; stroke-width: 0.8" />
      </g>
     </g>
     <g>
      <text style="font-size: 19px; text-anchor: middle" x="433.3" y="1245.75">5000</text>
     </g>
    </g>
    <g>
     <g>
      <g>
       <path d="M515.26 1222.42L515.26 1227.82" style="stroke: #000000; stroke-width: 0.8" />
      </g>
     </g>
     <g>
      <text style="font-size: 19px; text-anchor: middle" x="515.26" y="1245.75">6000</text>
     </g>
    </g>
    <g>
     <g transform="translate(282.67 1268.64)">
      <text><tspan x="0" y="-0.58" style="font-weight: 700; font-size: 19px">E</tspan><tspan x="22.11" y="-0.58" style="font-weight: 700; font-size: 19px"> (K)</tspan><tspan x="13.16" y="2.54" style="font-style: oblique; font-size: 13.3px">u</tspan></text>
     </g>
    </g>
   </g>
   <g>
    <g>
     <g>
      <g>
       <path d="M59.08 1149.93L53.68 1149.93" style="stroke: #000000; stroke-width: 0.8" />
      </g>
     </g>
     <g>
      <text style="font-size: 19px; text-anchor: end" x="50.78" y="1157.14">10</text>
     </g>
    </g>
    <g>
     <g>
      <g>
       <path d="M59.08 1041.54L53.68 1041.54" style="stroke: #000000; stroke-width: 0.8" />
      </g>
     </g>
     <g>
      <text style="font-size: 19px; text-anchor: end" x="50.78" y="1048.76">12</text>
     </g>
    </g>
    <g>
     <g>
      <g>
       <path d="M59.08 933.15L53.68 933.15" style="stroke: #000000; stroke-width: 0.8" />
      </g>
     </g>
     <g>
      <text style="font-size: 19px; text-anchor: end" x="50.78" y="940.37">14</text>
     </g>
    </g>
    <g>
     <g>
      <g>
       <path d="M59.08 824.76L53.68 824.76" style="stroke: #000000; stroke-width: 0.8" />
      </g>
     </g>
     <g>
      <text style="font-size: 19px; text-anchor: end" x="50.78" y="831.98">16</text>
     </g>
    </g>
    <g>
     <g transform="translate(18.42 1058.79) rotate(-90)">
      <text><tspan x="0" y="-0.85" style="font-weight: 700; font-size: 19px">ln (N</tspan><tspan x="60.37" y="-0.85" style="font-weight: 700; font-size: 19px">/g</tspan><tspan x="90.04" y="-0.85" style="font-weight: 700; font-size: 19px">) (cm</tspan><tspan x="165.39" y="-0.85" style="font-weight: 700; font-size: 19px">)</tspan><tspan x="51.42" y="2.27" style="font-style: oblique; font-size: 13.3px">u</tspan><tspan x="81.09" y="2.27" style="font-style: oblique; font-size: 13.3px">u</tspan><tspan x="145.26" y="-8.12" style="font-size: 13.3px">−2</tspan></text>
     </g>
    </g>
   </g>
   <g>
    <path d="M 106.67 889.42 L 106.67 885.82" clip-path="url(#pd9541ca4ed)" style="fill: none; stroke: #ff0000; stroke-width: 0.8" />
    <path d="M 161.34 957.31 L 161.34 953.57" clip-path="url(#pd9541ca4ed)" style="fill: none; stroke: #ff0000; stroke-width: 0.8" />
    <path d="M 228.72 1121.9 L 228.72 1118.88" clip-path="url(#pd9541ca4ed)" style="fill: none; stroke: #ff0000; stroke-width: 0.8" />
    <path d="M 308.22 1067.33 L 308.22 1064.45" clip-path="url(#pd9541ca4ed)" style="fill: none; stroke: #ff0000; stroke-width: 0.8" />
    <path d="M 399.37 1142.5 L 399.37 1138.75" clip-path="url(#pd9541ca4ed)" style="fill: none; stroke: #ff0000; stroke-width: 0.8" />
    <path d="M 501.25 1200.1 L 501.25 1195.34" clip-path="url(#pd9541ca4ed)" style="fill: none; stroke: #ff0000; stroke-width: 0.8" />
   </g>
   <g>
    <g clip-path="url(#pd9541ca4ed)">
     <path d="M114.37 889.42L98.97 889.42" style="fill: #ff0000; stroke: #ff0000; stroke-width: 0.8" />
     <path d="M169.04 957.31L153.64 957.31" style="fill: #ff0000; stroke: #ff0000; stroke-width: 0.8" />
     <path d="M236.42 1121.9L221.02 1121.9" style="fill: #ff0000; stroke: #ff0000; stroke-width: 0.8" />
     <path d="M315.92 1067.33L300.52 1067.33" style="fill: #ff0000; stroke: #ff0000; stroke-width: 0.8" />
     <path d="M407.07 1142.5L391.67 1142.5" style="fill: #ff0000; stroke: #ff0000; stroke-width: 0.8" />
     <path d="M508.95 1200.1L493.55 1200.1" style="fill: #ff0000; stroke: #ff0000; stroke-width: 0.8" />
    </g>
   </g>
   <g>
    <g clip-path="url(#pd9541ca4ed)">
     <path d="M114.37 885.82L98.97 885.82" style="fill: #ff0000; stroke: #ff0000; stroke-width: 0.8" />
     <path d="M169.04 953.57L153.64 953.57" style="fill: #ff0000; stroke: #ff0000; stroke-width: 0.8" />
     <path d="M236.42 1118.88L221.02 1118.88" style="fill: #ff0000; stroke: #ff0000; stroke-width: 0.8" />
     <path d="M315.92 1064.45L300.52 1064.45" style="fill: #ff0000; stroke: #ff0000; stroke-width: 0.8" />
     <path d="M407.07 1138.75L391.67 1138.75" style="fill: #ff0000; stroke: #ff0000; stroke-width: 0.8" />
     <path d="M508.95 1195.34L493.55 1195.34" style="fill: #ff0000; stroke: #ff0000; stroke-width: 0.8" />
    </g>
   </g>
   <g>
    <path d="M 106.67 775.66 L 106.67 771.91" clip-path="url(#pd9541ca4ed)" style="fill: none; stroke: #0000ff; stroke-width: 0.8" />
    <path d="M 161.34 807.34 L 161.34 803.45" clip-path="url(#pd9541ca4ed)" style="fill: none; stroke: #0000ff; stroke-width: 0.8" />
    <path d="M 228.72 905.54 L 228.72 901.66" clip-path="url(#pd9541ca4ed)" style="fill: none; stroke: #0000ff; stroke-width: 0.8" />
    <path d="M 308.22 966.53 L 308.22 963.5" clip-path="url(#pd9541ca4ed)" style="fill: none; stroke: #0000ff; stroke-width: 0.8" />
    <path d="M 399.37 1065.02 L 399.37 1061.28" clip-path="url(#pd9541ca4ed)" style="fill: none; stroke: #0000ff; stroke-width: 0.8" />
    <path d="M 501.25 1110.78 L 501.25 1105.52" clip-path="url(#pd9541ca4ed)" style="fill: none; stroke: #0000ff; stroke-width: 0.8" />
   </g>
   <g>
    <g clip-path="url(#pd9541ca4ed)">
     <path d="M114.37 775.66L98.97 775.66" style="fill: #0000ff; stroke: #0000ff; stroke-width: 0.8" />
     <path d="M169.04 807.34L153.64 807.34" style="fill: #0000ff; stroke: #0000ff; stroke-width: 0.8" />
     <path d="M236.42 905.54L221.02 905.54" style="fill: #0000ff; stroke: #0000ff; stroke-width: 0.8" />
     <path d="M315.92 966.53L300.52 966.53" style="fill: #0000ff; stroke: #0000ff; stroke-width: 0.8" />
     <path d="M407.07 1065.02L391.67 1065.02" style="fill: #0000ff; stroke: #0000ff; stroke-width: 0.8" />
     <path d="M508.95 1110.78L493.55 1110.78" style="fill: #0000ff; stroke: #0000ff; stroke-width: 0.8" />
    </g>
   </g>
   <g>
    <g clip-path="url(#pd9541ca4ed)">
     <path d="M114.37 771.91L98.97 771.91" style="fill: #0000ff; stroke: #0000ff; stroke-width: 0.8" />
     <path d="M169.04 803.45L153.64 803.45" style="fill: #0000ff; stroke: #0000ff; stroke-width: 0.8" />
     <path d="M236.42 901.66L221.02 901.66" style="fill: #0000ff; stroke: #0000ff; stroke-width: 0.8" />
     <path d="M315.92 963.5L300.52 963.5" style="fill: #0000ff; stroke: #0000ff; stroke-width: 0.8" />
     <path d="M407.07 1061.28L391.67 1061.28" style="fill: #0000ff; stroke: #0000ff; stroke-width: 0.8" />
     <path d="M508.95 1105.52L493.55 1105.52" style="fill: #0000ff; stroke: #0000ff; stroke-width: 0.8" />
    </g>
   </g>
   <g>
    <path d="M 82.08 742.49 L 349.2 1009.69" clip-path="url(#pd9541ca4ed)" style="fill: none; stroke: #0000ff; stroke-width: 2.264; stroke-linecap: square" />
   </g>
   <g>
    <path d="M 204.13 888.7 L 542.23 1152.01" clip-path="url(#pd9541ca4ed)" style="fill: none; stroke-dasharray: 8.3768,3.6224; stroke-dashoffset: 0; stroke: #0000ff; stroke-width: 2.264" />
   </g>
   <g>
    <g clip-path="url(#pd9541ca4ed)">
     <circle cx="106.67" cy="887.62" r="3.7" style="fill: #ff0000; stroke: #ff0000" />
     <circle cx="161.34" cy="955.44" r="3.7" style="fill: #ff0000; stroke: #ff0000" />
     <circle cx="228.72" cy="1120.39" r="3.7" style="fill: #ff0000; stroke: #ff0000" />
     <circle cx="308.22" cy="1065.89" r="3.7" style="fill: #ff0000; stroke: #ff0000" />
     <circle cx="399.37" cy="1140.62" r="3.7" style="fill: #ff0000; stroke: #ff0000" />
     <circle cx="501.25" cy="1197.72" r="3.7" style="fill: #ff0000; stroke: #ff0000" />
    </g>
   </g>
   <g>
    <g clip-path="url(#pd9541ca4ed)">
     <circle cx="106.67" cy="773.78" r="3.7" style="fill: #0000ff; stroke: #0000ff" />
     <circle cx="161.34" cy="805.39" r="3.7" style="fill: #0000ff; stroke: #0000ff" />
     <circle cx="228.72" cy="903.6" r="3.7" style="fill: #0000ff; stroke: #0000ff" />
     <circle cx="308.22" cy="965.02" r="3.7" style="fill: #0000ff; stroke: #0000ff" />
     <circle cx="399.37" cy="1063.15" r="3.7" style="fill: #0000ff; stroke: #0000ff" />
     <circle cx="501.25" cy="1108.15" r="3.7" style="fill: #0000ff; stroke: #0000ff" />
    </g>
   </g>
   <g>
    <path d="M 59.08 1222.42 L 59.08 719.64" style="fill: none; stroke: #000000; stroke-width: 2.35; stroke-linejoin: miter; stroke-linecap: square" />
   </g>
   <g>
    <path d="M 565.24 1222.42 L 565.24 719.64" style="fill: none; stroke: #000000; stroke-width: 2.35; stroke-linejoin: miter; stroke-linecap: square" />
   </g>
   <g>
    <path d="M 59.08 1222.42 L 565.24 1222.42" style="fill: none; stroke: #000000; stroke-width: 2.35; stroke-linejoin: miter; stroke-linecap: square" />
   </g>
   <g>
    <path d="M 59.08 719.64 L 565.24 719.64" style="fill: none; stroke: #000000; stroke-width: 2.35; stroke-linejoin: miter; stroke-linecap: square" />
   </g>
   <g>
    <g transform="translate(328.05 934)">
     <text><tspan x="0" y="-0.89" style="font-style: oblique; font-size: 19px">A</tspan><tspan x="13" y="2.23" style="font-style: oblique; font-size: 13.3px">V</tspan><tspan x="22.62" y="-0.89" style="font-size: 19px"> = 26.5 ± 0.5</tspan></text>
    </g>
   </g>
   <g>
    <g transform="translate(327.1 961.1)">
     <text><tspan x="0" y="-0.89" style="font-style: oblique; font-size: 19px">T</tspan><tspan x="11.61" y="2.23" style="font-style: oblique; font-size: 13.3px">rot</tspan><tspan x="34.03" y="-0.89" style="font-size: 19px">1 = 661.0 ± 74.0 K</tspan></text>
    </g>
   </g>
   <g>
    <g transform="translate(327.1 988.19)">
     <text><tspan x="0" y="-0.89" style="font-style: oblique; font-size: 19px">T</tspan><tspan x="11.61" y="2.23" style="font-style: oblique; font-size: 13.3px">rot</tspan><tspan x="34.03" y="-0.89" style="font-size: 19px">2 = 849.0 ± 104.0 K</tspan></text>
    </g>
   </g>
   <g>
    <text style="font-size: 18px; text-anchor: middle" x="312.16" y="670.97">Aperture 3</text>
   </g>
   <g>
    <g>
     <path d="M 312.17 818.51 L 552.66 818.51 Q 556.46 818.51 556.46 814.71 L 556.46 732.94 Q 556.46 729.14 552.66 729.14 L 312.17 729.14 Q 308.37 729.14 308.37 732.94 L 308.37 814.71 Q 308.37 818.51 312.17 818.51 z" style="fill: #ffffff; opacity: 0.8; stroke: #cccccc; stroke-linejoin: miter" />
    </g>
    <g>
     <path d="M 315.97 744.53 L 334.97 744.53 L 353.97 744.53" style="fill: none; stroke-dasharray: 8.3768,3.6224; stroke-dashoffset: 0; stroke: #0000ff; stroke-width: 2.264" />
    </g>
    <g>
     <text style="font-size: 19px; text-anchor: start" x="367.46" y="751.18">Fit</text>
    </g>
    <g>
     <path d="M 334.97 781.92 L 334.97 762.92" style="fill: none; stroke: #ff0000; stroke-width: 0.8" />
    </g>
    <g>
     <g>
      <path d="M342.67 781.92L327.27 781.92" style="fill: #ff0000; stroke: #ff0000; stroke-width: 0.8" />
     </g>
    </g>
    <g>
     <g>
      <path d="M342.67 762.92L327.27 762.92" style="fill: #ff0000; stroke: #ff0000; stroke-width: 0.8" />
     </g>
    </g>
    <g />
    <g>
     <g>
      <circle cx="334.97" cy="772.42" r="3.7" style="fill: #ff0000; stroke: #ff0000" />
     </g>
    </g>
    <g>
     <text style="font-size: 19px; text-anchor: start" x="367.46" y="779.07">Observed points</text>
    </g>
    <g>
     <path d="M 334.97 809.8 L 334.97 790.8" style="fill: none; stroke: #0000ff; stroke-width: 0.8" />
    </g>
    <g>
     <g>
      <path d="M342.67 809.8L327.27 809.8" style="fill: #0000ff; stroke: #0000ff; stroke-width: 0.8" />
     </g>
    </g>
    <g>
     <g>
      <path d="M342.67 790.8L327.27 790.8" style="fill: #0000ff; stroke: #0000ff; stroke-width: 0.8" />
     </g>
    </g>
    <g />
    <g>
     <g>
      <circle cx="334.97" cy="800.3" r="3.7" style="fill: #0000ff; stroke: #0000ff" />
     </g>
    </g>
    <g>
     <text style="font-size: 19px; text-anchor: start" x="367.46" y="806.95">Dereddened points</text>
    </g>
   </g>
  </g>
  <g>
   <g>
    <g>
     <g>
      <g>
       <path d="M106.67 719.64L106.67 714.24" style="stroke: #000000; stroke-width: 0.8" />
      </g>
     </g>
     <g>
      <text style="font-size: 19px; text-anchor: middle" x="106.67" y="707.54">S(1)</text>
     </g>
    </g>
    <g>
     <g>
      <g>
       <path d="M161.34 719.64L161.34 714.24" style="stroke: #000000; stroke-width: 0.8" />
      </g>
     </g>
     <g>
      <text style="font-size: 19px; text-anchor: middle" x="161.34" y="707.54">S(2)</text>
     </g>
    </g>
    <g>
     <g>
      <g>
       <path d="M228.72 719.64L228.72 714.24" style="stroke: #000000; stroke-width: 0.8" />
      </g>
     </g>
     <g>
      <text style="font-size: 19px; text-anchor: middle" x="228.72" y="707.54">S(3)</text>
     </g>
    </g>
    <g>
     <g>
      <g>
       <path d="M308.22 719.64L308.22 714.24" style="stroke: #000000; stroke-width: 0.8" />
      </g>
     </g>
     <g>
      <text style="font-size: 19px; text-anchor: middle" x="308.22" y="707.54">S(4)</text>
     </g>
    </g>
    <g>
     <g>
      <g>
       <path d="M399.37 719.64L399.37 714.24" style="stroke: #000000; stroke-width: 0.8" />
      </g>
     </g>
     <g>
      <text style="font-size: 19px; text-anchor: middle" x="399.37" y="707.54">S(5)</text>
     </g>
    </g>
    <g>
     <g>
      <g>
       <path d="M501.25 719.64L501.25 714.24" style="stroke: #000000; stroke-width: 0.8" />
      </g>
     </g>
     <g>
      <text style="font-size: 19px; text-anchor: middle" x="501.25" y="707.54">S(6)</text>
     </g>
    </g>
    <g>
     <text style="font-weight: 700; font-size: 19px; text-anchor: middle" x="312.16" y="689.97">Transition</text>
    </g>
   </g>
   <g>
    <path d="M 59.08 1222.42 L 59.08 719.64" style="fill: none; stroke: #000000; stroke-width: 2.35; stroke-linejoin: miter; stroke-linecap: square" />
   </g>
   <g>
    <path d="M 565.24 1222.42 L 565.24 719.64" style="fill: none; stroke: #000000; stroke-width: 2.35; stroke-linejoin: miter; stroke-linecap: square" />
   </g>
   <g>
    <path d="M 59.08 1222.42 L 565.24 1222.42" style="fill: none; stroke: #000000; stroke-width: 2.35; stroke-linejoin: miter; stroke-linecap: square" />
   </g>
   <g>
    <path d="M 59.08 719.64 L 565.24 719.64" style="fill: none; stroke: #000000; stroke-width: 2.35; stroke-linejoin: miter; stroke-linecap: square" />
   </g>
  </g>
  <g>
   <g>
    <path d="M 712.15 1222.42 L 1218.31 1222.42 L 1218.31 719.64 L 712.15 719.64 z" style="fill: #ffffff" />
   </g>
   <g>
    <g>
     <g>
      <g>
       <path d="M758.52 1222.42L758.52 1227.82" style="stroke: #000000; stroke-width: 0.8" />
      </g>
     </g>
     <g>
      <text style="font-size: 19px; text-anchor: middle" x="758.52" y="1245.75">1000</text>
     </g>
    </g>
    <g>
     <g>
      <g>
       <path d="M840.48 1222.42L840.48 1227.82" style="stroke: #000000; stroke-width: 0.8" />
      </g>
     </g>
     <g>
      <text style="font-size: 19px; text-anchor: middle" x="840.48" y="1245.75">2000</text>
     </g>
    </g>
    <g>
     <g>
      <g>
       <path d="M922.45 1222.42L922.45 1227.82" style="stroke: #000000; stroke-width: 0.8" />
      </g>
     </g>
     <g>
      <text style="font-size: 19px; text-anchor: middle" x="922.45" y="1245.75">3000</text>
     </g>
    </g>
    <g>
     <g>
      <g>
       <path d="M1004.41 1222.42L1004.41 1227.82" style="stroke: #000000; stroke-width: 0.8" />
      </g>
     </g>
     <g>
      <text style="font-size: 19px; text-anchor: middle" x="1004.41" y="1245.75">4000</text>
     </g>
    </g>
    <g>
     <g>
      <g>
       <path d="M1086.37 1222.42L1086.37 1227.82" style="stroke: #000000; stroke-width: 0.8" />
      </g>
     </g>
     <g>
      <text style="font-size: 19px; text-anchor: middle" x="1086.37" y="1245.75">5000</text>
     </g>
    </g>
    <g>
     <g>
      <g>
       <path d="M1168.34 1222.42L1168.34 1227.82" style="stroke: #000000; stroke-width: 0.8" />
      </g>
     </g>
     <g>
      <text style="font-size: 19px; text-anchor: middle" x="1168.34" y="1245.75">6000</text>
     </g>
    </g>
    <g>
     <g transform="translate(935.75 1268.64)">
      <text><tspan x="0" y="-0.58" style="font-weight: 700; font-size: 19px">E</tspan><tspan x="22.11" y="-0.58" style="font-weight: 700; font-size: 19px"> (K)</tspan><tspan x="13.16" y="2.54" style="font-style: oblique; font-size: 13.3px">u</tspan></text>
     </g>
    </g>
   </g>
   <g>
    <g>
     <g>
      <g>
       <path d="M712.15 1146.38L706.75 1146.38" style="stroke: #000000; stroke-width: 0.8" />
      </g>
     </g>
     <g>
      <text style="font-size: 19px; text-anchor: end" x="703.85" y="1153.6">10</text>
     </g>
    </g>
    <g>
     <g>
      <g>
       <path d="M712.15 1035.5L706.75 1035.5" style="stroke: #000000; stroke-width: 0.8" />
      </g>
     </g>
     <g>
      <text style="font-size: 19px; text-anchor: end" x="703.85" y="1042.72">12</text>
     </g>
    </g>
    <g>
     <g>
      <g>
       <path d="M712.15 924.62L706.75 924.62" style="stroke: #000000; stroke-width: 0.8" />
      </g>
     </g>
     <g>
      <text style="font-size: 19px; text-anchor: end" x="703.85" y="931.84">14</text>
     </g>
    </g>
    <g>
     <g>
      <g>
       <path d="M712.15 813.74L706.75 813.74" style="stroke: #000000; stroke-width: 0.8" />
      </g>
     </g>
     <g>
      <text style="font-size: 19px; text-anchor: end" x="703.85" y="820.96">16</text>
     </g>
    </g>
    <g>
     <g transform="translate(671.49 1058.79) rotate(-90)">
      <text><tspan x="0" y="-0.85" style="font-weight: 700; font-size: 19px">ln (N</tspan><tspan x="60.37" y="-0.85" style="font-weight: 700; font-size: 19px">/g</tspan><tspan x="90.04" y="-0.85" style="font-weight: 700; font-size: 19px">) (cm</tspan><tspan x="165.39" y="-0.85" style="font-weight: 700; font-size: 19px">)</tspan><tspan x="51.42" y="2.27" style="font-style: oblique; font-size: 13.3px">u</tspan><tspan x="81.09" y="2.27" style="font-style: oblique; font-size: 13.3px">u</tspan><tspan x="145.26" y="-8.12" style="font-size: 13.3px">−2</tspan></text>
     </g>
    </g>
   </g>
   <g>
    <path d="M 759.75 887.98 L 759.75 884.23" clip-path="url(#pca8c2dbba2)" style="fill: none; stroke: #ff0000; stroke-width: 0.8" />
    <path d="M 814.42 961.2 L 814.42 957.6" clip-path="url(#pca8c2dbba2)" style="fill: none; stroke: #ff0000; stroke-width: 0.8" />
    <path d="M 881.79 1119.31 L 881.79 1116.14" clip-path="url(#pca8c2dbba2)" style="fill: none; stroke: #ff0000; stroke-width: 0.8" />
    <path d="M 961.3 1064.66 L 961.3 1061.5" clip-path="url(#pca8c2dbba2)" style="fill: none; stroke: #ff0000; stroke-width: 0.8" />
    <path d="M 1052.44 1139.69 L 1052.44 1136.09" clip-path="url(#pca8c2dbba2)" style="fill: none; stroke: #ff0000; stroke-width: 0.8" />
    <path d="M 1154.32 1200.6 L 1154.32 1195.85" clip-path="url(#pca8c2dbba2)" style="fill: none; stroke: #ff0000; stroke-width: 0.8" />
   </g>
   <g>
    <g clip-path="url(#pca8c2dbba2)">
     <path d="M767.45 887.98L752.05 887.98" style="fill: #ff0000; stroke: #ff0000; stroke-width: 0.8" />
     <path d="M822.12 961.2L806.72 961.2" style="fill: #ff0000; stroke: #ff0000; stroke-width: 0.8" />
     <path d="M889.49 1119.31L874.09 1119.31" style="fill: #ff0000; stroke: #ff0000; stroke-width: 0.8" />
     <path d="M969 1064.66L953.6 1064.66" style="fill: #ff0000; stroke: #ff0000; stroke-width: 0.8" />
     <path d="M1060.14 1139.69L1044.74 1139.69" style="fill: #ff0000; stroke: #ff0000; stroke-width: 0.8" />
     <path d="M1162.02 1200.6L1146.62 1200.6" style="fill: #ff0000; stroke: #ff0000; stroke-width: 0.8" />
    </g>
   </g>
   <g>
    <g clip-path="url(#pca8c2dbba2)">
     <path d="M767.45 884.23L752.05 884.23" style="fill: #ff0000; stroke: #ff0000; stroke-width: 0.8" />
     <path d="M822.12 957.6L806.72 957.6" style="fill: #ff0000; stroke: #ff0000; stroke-width: 0.8" />
     <path d="M889.49 1116.14L874.09 1116.14" style="fill: #ff0000; stroke: #ff0000; stroke-width: 0.8" />
     <path d="M969 1061.5L953.6 1061.5" style="fill: #ff0000; stroke: #ff0000; stroke-width: 0.8" />
     <path d="M1060.14 1136.09L1044.74 1136.09" style="fill: #ff0000; stroke: #ff0000; stroke-width: 0.8" />
     <path d="M1162.02 1195.85L1146.62 1195.85" style="fill: #ff0000; stroke: #ff0000; stroke-width: 0.8" />
    </g>
   </g>
   <g>
    <path d="M 759.75 773.5 L 759.75 768.89" clip-path="url(#pca8c2dbba2)" style="fill: none; stroke: #0000ff; stroke-width: 0.8" />
    <path d="M 814.42 811.51 L 814.42 806.76" clip-path="url(#pca8c2dbba2)" style="fill: none; stroke: #0000ff; stroke-width: 0.8" />
    <path d="M 881.79 902.23 L 881.79 897.48" clip-path="url(#pca8c2dbba2)" style="fill: none; stroke: #0000ff; stroke-width: 0.8" />
    <path d="M 961.3 963.5 L 961.3 960.05" clip-path="url(#pca8c2dbba2)" style="fill: none; stroke: #0000ff; stroke-width: 0.8" />
    <path d="M 1052.44 1061.93 L 1052.44 1057.9" clip-path="url(#pca8c2dbba2)" style="fill: none; stroke: #0000ff; stroke-width: 0.8" />
    <path d="M 1154.32 1110.96 L 1154.32 1105.34" clip-path="url(#pca8c2dbba2)" style="fill: none; stroke: #0000ff; stroke-width: 0.8" />
   </g>
   <g>
    <g clip-path="url(#pca8c2dbba2)">
     <path d="M767.45 773.5L752.05 773.5" style="fill: #0000ff; stroke: #0000ff; stroke-width: 0.8" />
     <path d="M822.12 811.51L806.72 811.51" style="fill: #0000ff; stroke: #0000ff; stroke-width: 0.8" />
     <path d="M889.49 902.23L874.09 902.23" style="fill: #0000ff; stroke: #0000ff; stroke-width: 0.8" />
     <path d="M969 963.5L953.6 963.5" style="fill: #0000ff; stroke: #0000ff; stroke-width: 0.8" />
     <path d="M1060.14 1061.93L1044.74 1061.93" style="fill: #0000ff; stroke: #0000ff; stroke-width: 0.8" />
     <path d="M1162.02 1110.96L1146.62 1110.96" style="fill: #0000ff; stroke: #0000ff; stroke-width: 0.8" />
    </g>
   </g>
   <g>
    <g clip-path="url(#pca8c2dbba2)">
     <path d="M767.45 768.89L752.05 768.89" style="fill: #0000ff; stroke: #0000ff; stroke-width: 0.8" />
     <path d="M822.12 806.76L806.72 806.76" style="fill: #0000ff; stroke: #0000ff; stroke-width: 0.8" />
     <path d="M889.49 897.48L874.09 897.48" style="fill: #0000ff; stroke: #0000ff; stroke-width: 0.8" />
     <path d="M969 960.05L953.6 960.05" style="fill: #0000ff; stroke: #0000ff; stroke-width: 0.8" />
     <path d="M1060.14 1057.9L1044.74 1057.9" style="fill: #0000ff; stroke: #0000ff; stroke-width: 0.8" />
     <path d="M1162.02 1105.34L1146.62 1105.34" style="fill: #0000ff; stroke: #0000ff; stroke-width: 0.8" />
    </g>
   </g>
   <g>
    <path d="M 735.16 742.49 L 1002.28 1006.26" clip-path="url(#pca8c2dbba2)" style="fill: none; stroke: #0000ff; stroke-width: 2.264; stroke-linecap: square" />
   </g>
   <g>
    <path d="M 857.2 884.38 L 1195.3 1152.79" clip-path="url(#pca8c2dbba2)" style="fill: none; stroke-dasharray: 8.3768,3.6224; stroke-dashoffset: 0; stroke: #0000ff; stroke-width: 2.264" />
   </g>
   <g>
    <g clip-path="url(#pca8c2dbba2)">
     <circle cx="759.75" cy="886.1" r="3.7" style="fill: #ff0000; stroke: #ff0000" />
     <circle cx="814.42" cy="959.4" r="3.7" style="fill: #ff0000; stroke: #ff0000" />
     <circle cx="881.79" cy="1117.73" r="3.7" style="fill: #ff0000; stroke: #ff0000" />
     <circle cx="961.3" cy="1063.08" r="3.7" style="fill: #ff0000; stroke: #ff0000" />
     <circle cx="1052.44" cy="1137.89" r="3.7" style="fill: #ff0000; stroke: #ff0000" />
     <circle cx="1154.32" cy="1198.22" r="3.7" style="fill: #ff0000; stroke: #ff0000" />
    </g>
   </g>
   <g>
    <g clip-path="url(#pca8c2dbba2)">
     <circle cx="759.75" cy="771.19" r="3.7" style="fill: #0000ff; stroke: #0000ff" />
     <circle cx="814.42" cy="809.14" r="3.7" style="fill: #0000ff; stroke: #0000ff" />
     <circle cx="881.79" cy="899.86" r="3.7" style="fill: #0000ff; stroke: #0000ff" />
     <circle cx="961.3" cy="961.78" r="3.7" style="fill: #0000ff; stroke: #0000ff" />
     <circle cx="1052.44" cy="1059.91" r="3.7" style="fill: #0000ff; stroke: #0000ff" />
     <circle cx="1154.32" cy="1108.15" r="3.7" style="fill: #0000ff; stroke: #0000ff" />
    </g>
   </g>
   <g>
    <path d="M 712.15 1222.42 L 712.15 719.64" style="fill: none; stroke: #000000; stroke-width: 2.35; stroke-linejoin: miter; stroke-linecap: square" />
   </g>
   <g>
    <path d="M 1218.31 1222.42 L 1218.31 719.64" style="fill: none; stroke: #000000; stroke-width: 2.35; stroke-linejoin: miter; stroke-linecap: square" />
   </g>
   <g>
    <path d="M 712.15 1222.42 L 1218.31 1222.42" style="fill: none; stroke: #000000; stroke-width: 2.35; stroke-linejoin: miter; stroke-linecap: square" />
   </g>
   <g>
    <path d="M 712.15 719.64 L 1218.31 719.64" style="fill: none; stroke: #000000; stroke-width: 2.35; stroke-linejoin: miter; stroke-linecap: square" />
   </g>
   <g>
    <g transform="translate(981.12 925.47)">
     <text><tspan x="0" y="-0.89" style="font-style: oblique; font-size: 19px">A</tspan><tspan x="13" y="2.23" style="font-style: oblique; font-size: 13.3px">V</tspan><tspan x="22.62" y="-0.89" style="font-size: 19px"> = 26.1 ± 0.6</tspan></text>
    </g>
   </g>
   <g>
    <g transform="translate(980.17 953.19)">
     <text><tspan x="0" y="-0.89" style="font-style: oblique; font-size: 19px">T</tspan><tspan x="11.61" y="2.23" style="font-style: oblique; font-size: 13.3px">rot</tspan><tspan x="34.03" y="-0.89" style="font-size: 19px">1 = 685.0 ± 63.0 K</tspan></text>
    </g>
   </g>
   <g>
    <g transform="translate(980.17 980.91)">
     <text><tspan x="0" y="-0.89" style="font-style: oblique; font-size: 19px">T</tspan><tspan x="11.61" y="2.23" style="font-style: oblique; font-size: 13.3px">rot</tspan><tspan x="34.03" y="-0.89" style="font-size: 19px">2 = 852.0 ± 101.0 K</tspan></text>
    </g>
   </g>
   <g>
    <text style="font-size: 18px; text-anchor: middle" x="965.23" y="670.97">Aperture 4</text>
   </g>
   <g>
    <g>
     <path d="M 965.25 818.51 L 1205.73 818.51 Q 1209.53 818.51 1209.53 814.71 L 1209.53 732.94 Q 1209.53 729.14 1205.73 729.14 L 965.25 729.14 Q 961.45 729.14 961.45 732.94 L 961.45 814.71 Q 961.45 818.51 965.25 818.51 z" style="fill: #ffffff; opacity: 0.8; stroke: #cccccc; stroke-linejoin: miter" />
    </g>
    <g>
     <path d="M 969.05 744.53 L 988.05 744.53 L 1007.05 744.53" style="fill: none; stroke-dasharray: 8.3768,3.6224; stroke-dashoffset: 0; stroke: #0000ff; stroke-width: 2.264" />
    </g>
    <g>
     <text style="font-size: 19px; text-anchor: start" x="1020.54" y="751.18">Fit</text>
    </g>
    <g>
     <path d="M 988.05 781.92 L 988.05 762.92" style="fill: none; stroke: #ff0000; stroke-width: 0.8" />
    </g>
    <g>
     <g>
      <path d="M995.75 781.92L980.35 781.92" style="fill: #ff0000; stroke: #ff0000; stroke-width: 0.8" />
     </g>
    </g>
    <g>
     <g>
      <path d="M995.75 762.92L980.35 762.92" style="fill: #ff0000; stroke: #ff0000; stroke-width: 0.8" />
     </g>
    </g>
    <g />
    <g>
     <g>
      <circle cx="988.05" cy="772.42" r="3.7" style="fill: #ff0000; stroke: #ff0000" />
     </g>
    </g>
    <g>
     <text style="font-size: 19px; text-anchor: start" x="1020.54" y="779.07">Observed points</text>
    </g>
    <g>
     <path d="M 988.05 809.8 L 988.05 790.8" style="fill: none; stroke: #0000ff; stroke-width: 0.8" />
    </g>
    <g>
     <g>
      <path d="M995.75 809.8L980.35 809.8" style="fill: #0000ff; stroke: #0000ff; stroke-width: 0.8" />
     </g>
    </g>
    <g>
     <g>
      <path d="M995.75 790.8L980.35 790.8" style="fill: #0000ff; stroke: #0000ff; stroke-width: 0.8" />
     </g>
    </g>
    <g />
    <g>
     <g>
      <circle cx="988.05" cy="800.3" r="3.7" style="fill: #0000ff; stroke: #0000ff" />
     </g>
    </g>
    <g>
     <text style="font-size: 19px; text-anchor: start" x="1020.54" y="806.95">Dereddened points</text>
    </g>
   </g>
  </g>
  <g>
   <g>
    <g>
     <g>
      <g>
       <path d="M759.75 719.64L759.75 714.24" style="stroke: #000000; stroke-width: 0.8" />
      </g>
     </g>
     <g>
      <text style="font-size: 19px; text-anchor: middle" x="759.75" y="707.54">S(1)</text>
     </g>
    </g>
    <g>
     <g>
      <g>
       <path d="M814.42 719.64L814.42 714.24" style="stroke: #000000; stroke-width: 0.8" />
      </g>
     </g>
     <g>
      <text style="font-size: 19px; text-anchor: middle" x="814.42" y="707.54">S(2)</text>
     </g>
    </g>
    <g>
     <g>
      <g>
       <path d="M881.79 719.64L881.79 714.24" style="stroke: #000000; stroke-width: 0.8" />
      </g>
     </g>
     <g>
      <text style="font-size: 19px; text-anchor: middle" x="881.79" y="707.54">S(3)</text>
     </g>
    </g>
    <g>
     <g>
      <g>
       <path d="M961.3 719.64L961.3 714.24" style="stroke: #000000; stroke-width: 0.8" />
      </g>
     </g>
     <g>
      <text style="font-size: 19px; text-anchor: middle" x="961.3" y="707.54">S(4)</text>
     </g>
    </g>
    <g>
     <g>
      <g>
       <path d="M1052.44 719.64L1052.44 714.24" style="stroke: #000000; stroke-width: 0.8" />
      </g>
     </g>
     <g>
      <text style="font-size: 19px; text-anchor: middle" x="1052.44" y="707.54">S(5)</text>
     </g>
    </g>
    <g>
     <g>
      <g>
       <path d="M1154.32 719.64L1154.32 714.24" style="stroke: #000000; stroke-width: 0.8" />
      </g>
     </g>
     <g>
      <text style="font-size: 19px; text-anchor: middle" x="1154.32" y="707.54">S(6)</text>
     </g>
    </g>
    <g>
     <text style="font-weight: 700; font-size: 19px; text-anchor: middle" x="965.23" y="689.97">Transition</text>
    </g>
   </g>
   <g>
    <path d="M 712.15 1222.42 L 712.15 719.64" style="fill: none; stroke: #000000; stroke-width: 2.35; stroke-linejoin: miter; stroke-linecap: square" />
   </g>
   <g>
    <path d="M 1218.31 1222.42 L 1218.31 719.64" style="fill: none; stroke: #000000; stroke-width: 2.35; stroke-linejoin: miter; stroke-linecap: square" />
   </g>
   <g>
    <path d="M 712.15 1222.42 L 1218.31 1222.42" style="fill: none; stroke: #000000; stroke-width: 2.35; stroke-linejoin: miter; stroke-linecap: square" />
   </g>
   <g>
    <path d="M 712.15 719.64 L 1218.31 719.64" style="fill: none; stroke: #000000; stroke-width: 2.35; stroke-linejoin: miter; stroke-linecap: square" />
   </g>
  </g>
  <g>
   <g>
    <path d="M 59.08 1879.13 L 565.24 1879.13 L 565.24 1376.35 L 59.08 1376.35 z" style="fill: #ffffff" />
   </g>
   <g>
    <g>
     <g>
      <g>
       <path d="M105.44 1879.13L105.44 1884.53" style="stroke: #000000; stroke-width: 0.8" />
      </g>
     </g>
     <g>
      <text style="font-size: 19px; text-anchor: middle" x="105.44" y="1902.47">1000</text>
     </g>
    </g>
    <g>
     <g>
      <g>
       <path d="M187.41 1879.13L187.41 1884.53" style="stroke: #000000; stroke-width: 0.8" />
      </g>
     </g>
     <g>
      <text style="font-size: 19px; text-anchor: middle" x="187.41" y="1902.47">2000</text>
     </g>
    </g>
    <g>
     <g>
      <g>
       <path d="M269.37 1879.13L269.37 1884.53" style="stroke: #000000; stroke-width: 0.8" />
      </g>
     </g>
     <g>
      <text style="font-size: 19px; text-anchor: middle" x="269.37" y="1902.47">3000</text>
     </g>
    </g>
    <g>
     <g>
      <g>
       <path d="M351.33 1879.13L351.33 1884.53" style="stroke: #000000; stroke-width: 0.8" />
      </g>
     </g>
     <g>
      <text style="font-size: 19px; text-anchor: middle" x="351.33" y="1902.47">4000</text>
     </g>
    </g>
    <g>
     <g>
      <g>
       <path d="M433.3 1879.13L433.3 1884.53" style="stroke: #000000; stroke-width: 0.8" />
      </g>
     </g>
     <g>
      <text style="font-size: 19px; text-anchor: middle" x="433.3" y="1902.47">5000</text>
     </g>
    </g>
    <g>
     <g>
      <g>
       <path d="M515.26 1879.13L515.26 1884.53" style="stroke: #000000; stroke-width: 0.8" />
      </g>
     </g>
     <g>
      <text style="font-size: 19px; text-anchor: middle" x="515.26" y="1902.47">6000</text>
     </g>
    </g>
    <g>
     <g transform="translate(282.67 1925.35)">
      <text><tspan x="0" y="-0.58" style="font-weight: 700; font-size: 19px">E</tspan><tspan x="22.11" y="-0.58" style="font-weight: 700; font-size: 19px"> (K)</tspan><tspan x="13.16" y="2.54" style="font-style: oblique; font-size: 13.3px">u</tspan></text>
     </g>
    </g>
   </g>
   <g>
    <g>
     <g>
      <g>
       <path d="M59.08 1773.49L53.68 1773.49" style="stroke: #000000; stroke-width: 0.8" />
      </g>
     </g>
     <g>
      <text style="font-size: 19px; text-anchor: end" x="50.78" y="1780.71">10</text>
     </g>
    </g>
    <g>
     <g>
      <g>
       <path d="M59.08 1666.02L53.68 1666.02" style="stroke: #000000; stroke-width: 0.8" />
      </g>
     </g>
     <g>
      <text style="font-size: 19px; text-anchor: end" x="50.78" y="1673.24">12</text>
     </g>
    </g>
    <g>
     <g>
      <g>
       <path d="M59.08 1558.56L53.68 1558.56" style="stroke: #000000; stroke-width: 0.8" />
      </g>
     </g>
     <g>
      <text style="font-size: 19px; text-anchor: end" x="50.78" y="1565.77">14</text>
     </g>
    </g>
    <g>
     <g>
      <g>
       <path d="M59.08 1451.09L53.68 1451.09" style="stroke: #000000; stroke-width: 0.8" />
      </g>
     </g>
     <g>
      <text style="font-size: 19px; text-anchor: end" x="50.78" y="1458.31">16</text>
     </g>
    </g>
    <g>
     <g transform="translate(18.42 1715.5) rotate(-90)">
      <text><tspan x="0" y="-0.85" style="font-weight: 700; font-size: 19px">ln (N</tspan><tspan x="60.37" y="-0.85" style="font-weight: 700; font-size: 19px">/g</tspan><tspan x="90.04" y="-0.85" style="font-weight: 700; font-size: 19px">) (cm</tspan><tspan x="165.39" y="-0.85" style="font-weight: 700; font-size: 19px">)</tspan><tspan x="51.42" y="2.27" style="font-style: oblique; font-size: 13.3px">u</tspan><tspan x="81.09" y="2.27" style="font-style: oblique; font-size: 13.3px">u</tspan><tspan x="145.26" y="-8.12" style="font-size: 13.3px">−2</tspan></text>
     </g>
    </g>
   </g>
   <g>
    <path d="M 106.67 1534.25 L 106.67 1529.78" clip-path="url(#p16efa5314b)" style="fill: none; stroke: #ff0000; stroke-width: 0.8" />
    <path d="M 161.34 1605.2 L 161.34 1600.96" clip-path="url(#p16efa5314b)" style="fill: none; stroke: #ff0000; stroke-width: 0.8" />
    <path d="M 228.72 1763.21 L 228.72 1759.9" clip-path="url(#p16efa5314b)" style="fill: none; stroke: #ff0000; stroke-width: 0.8" />
    <path d="M 308.22 1725.84 L 308.22 1722.24" clip-path="url(#p16efa5314b)" style="fill: none; stroke: #ff0000; stroke-width: 0.8" />
    <path d="M 399.37 1796.54 L 399.37 1793.23" clip-path="url(#p16efa5314b)" style="fill: none; stroke: #ff0000; stroke-width: 0.8" />
    <path d="M 501.25 1857.1 L 501.25 1852.06" clip-path="url(#p16efa5314b)" style="fill: none; stroke: #ff0000; stroke-width: 0.8" />
   </g>
   <g>
    <g clip-path="url(#p16efa5314b)">
     <path d="M114.37 1534.25L98.97 1534.25" style="fill: #ff0000; stroke: #ff0000; stroke-width: 0.8" />
     <path d="M169.04 1605.2L153.64 1605.2" style="fill: #ff0000; stroke: #ff0000; stroke-width: 0.8" />
     <path d="M236.42 1763.21L221.02 1763.21" style="fill: #ff0000; stroke: #ff0000; stroke-width: 0.8" />
     <path d="M315.92 1725.84L300.52 1725.84" style="fill: #ff0000; stroke: #ff0000; stroke-width: 0.8" />
     <path d="M407.07 1796.54L391.67 1796.54" style="fill: #ff0000; stroke: #ff0000; stroke-width: 0.8" />
     <path d="M508.95 1857.1L493.55 1857.1" style="fill: #ff0000; stroke: #ff0000; stroke-width: 0.8" />
    </g>
   </g>
   <g>
    <g clip-path="url(#p16efa5314b)">
     <path d="M114.37 1529.78L98.97 1529.78" style="fill: #ff0000; stroke: #ff0000; stroke-width: 0.8" />
     <path d="M169.04 1600.96L153.64 1600.96" style="fill: #ff0000; stroke: #ff0000; stroke-width: 0.8" />
     <path d="M236.42 1759.9L221.02 1759.9" style="fill: #ff0000; stroke: #ff0000; stroke-width: 0.8" />
     <path d="M315.92 1722.24L300.52 1722.24" style="fill: #ff0000; stroke: #ff0000; stroke-width: 0.8" />
     <path d="M407.07 1793.23L391.67 1793.23" style="fill: #ff0000; stroke: #ff0000; stroke-width: 0.8" />
     <path d="M508.95 1852.06L493.55 1852.06" style="fill: #ff0000; stroke: #ff0000; stroke-width: 0.8" />
    </g>
   </g>
   <g>
    <path d="M 106.67 1432.44 L 106.67 1427.4" clip-path="url(#p16efa5314b)" style="fill: none; stroke: #0000ff; stroke-width: 0.8" />
    <path d="M 161.34 1471.54 L 161.34 1466.5" clip-path="url(#p16efa5314b)" style="fill: none; stroke: #0000ff; stroke-width: 0.8" />
    <path d="M 228.72 1569.82 L 228.72 1564.92" clip-path="url(#p16efa5314b)" style="fill: none; stroke: #0000ff; stroke-width: 0.8" />
    <path d="M 308.22 1635.77 L 308.22 1631.02" clip-path="url(#p16efa5314b)" style="fill: none; stroke: #0000ff; stroke-width: 0.8" />
    <path d="M 399.37 1727.28 L 399.37 1723.54" clip-path="url(#p16efa5314b)" style="fill: none; stroke: #0000ff; stroke-width: 0.8" />
    <path d="M 501.25 1777.18 L 501.25 1772.14" clip-path="url(#p16efa5314b)" style="fill: none; stroke: #0000ff; stroke-width: 0.8" />
   </g>
   <g>
    <g clip-path="url(#p16efa5314b)">
     <path d="M114.37 1432.44L98.97 1432.44" style="fill: #0000ff; stroke: #0000ff; stroke-width: 0.8" />
     <path d="M169.04 1471.54L153.64 1471.54" style="fill: #0000ff; stroke: #0000ff; stroke-width: 0.8" />
     <path d="M236.42 1569.82L221.02 1569.82" style="fill: #0000ff; stroke: #0000ff; stroke-width: 0.8" />
     <path d="M315.92 1635.77L300.52 1635.77" style="fill: #0000ff; stroke: #0000ff; stroke-width: 0.8" />
     <path d="M407.07 1727.28L391.67 1727.28" style="fill: #0000ff; stroke: #0000ff; stroke-width: 0.8" />
     <path d="M508.95 1777.18L493.55 1777.18" style="fill: #0000ff; stroke: #0000ff; stroke-width: 0.8" />
    </g>
   </g>
   <g>
    <g clip-path="url(#p16efa5314b)">
     <path d="M114.37 1427.4L98.97 1427.4" style="fill: #0000ff; stroke: #0000ff; stroke-width: 0.8" />
     <path d="M169.04 1466.5L153.64 1466.5" style="fill: #0000ff; stroke: #0000ff; stroke-width: 0.8" />
     <path d="M236.42 1564.92L221.02 1564.92" style="fill: #0000ff; stroke: #0000ff; stroke-width: 0.8" />
     <path d="M315.92 1631.02L300.52 1631.02" style="fill: #0000ff; stroke: #0000ff; stroke-width: 0.8" />
     <path d="M407.07 1723.54L391.67 1723.54" style="fill: #0000ff; stroke: #0000ff; stroke-width: 0.8" />
     <path d="M508.95 1772.14L493.55 1772.14" style="fill: #0000ff; stroke: #0000ff; stroke-width: 0.8" />
    </g>
   </g>
   <g>
    <path d="M 82.08 1399.21 L 349.2 1681.2" clip-path="url(#p16efa5314b)" style="fill: none; stroke: #0000ff; stroke-width: 2.264; stroke-linecap: square" />
   </g>
   <g>
    <path d="M 204.13 1554.12 L 542.23 1817.99" clip-path="url(#p16efa5314b)" style="fill: none; stroke-dasharray: 8.3768,3.6224; stroke-dashoffset: 0; stroke: #0000ff; stroke-width: 2.264" />
   </g>
   <g>
    <g clip-path="url(#p16efa5314b)">
     <circle cx="106.67" cy="1532.02" r="3.7" style="fill: #ff0000; stroke: #ff0000" />
     <circle cx="161.34" cy="1603.08" r="3.7" style="fill: #ff0000; stroke: #ff0000" />
     <circle cx="228.72" cy="1761.55" r="3.7" style="fill: #ff0000; stroke: #ff0000" />
     <circle cx="308.22" cy="1724.04" r="3.7" style="fill: #ff0000; stroke: #ff0000" />
     <circle cx="399.37" cy="1794.89" r="3.7" style="fill: #ff0000; stroke: #ff0000" />
     <circle cx="501.25" cy="1854.58" r="3.7" style="fill: #ff0000; stroke: #ff0000" />
    </g>
   </g>
   <g>
    <g clip-path="url(#p16efa5314b)">
     <circle cx="106.67" cy="1429.92" r="3.7" style="fill: #0000ff; stroke: #0000ff" />
     <circle cx="161.34" cy="1469.02" r="3.7" style="fill: #0000ff; stroke: #0000ff" />
     <circle cx="228.72" cy="1567.37" r="3.7" style="fill: #0000ff; stroke: #0000ff" />
     <circle cx="308.22" cy="1633.39" r="3.7" style="fill: #0000ff; stroke: #0000ff" />
     <circle cx="399.37" cy="1725.41" r="3.7" style="fill: #0000ff; stroke: #0000ff" />
     <circle cx="501.25" cy="1774.66" r="3.7" style="fill: #0000ff; stroke: #0000ff" />
    </g>
   </g>
   <g>
    <path d="M 59.08 1879.13 L 59.08 1376.35" style="fill: none; stroke: #000000; stroke-width: 2.35; stroke-linejoin: miter; stroke-linecap: square" />
   </g>
   <g>
    <path d="M 565.24 1879.13 L 565.24 1376.35" style="fill: none; stroke: #000000; stroke-width: 2.35; stroke-linejoin: miter; stroke-linecap: square" />
   </g>
   <g>
    <path d="M 59.08 1879.13 L 565.24 1879.13" style="fill: none; stroke: #000000; stroke-width: 2.35; stroke-linejoin: miter; stroke-linecap: square" />
   </g>
   <g>
    <path d="M 59.08 1376.35 L 565.24 1376.35" style="fill: none; stroke: #000000; stroke-width: 2.35; stroke-linejoin: miter; stroke-linecap: square" />
   </g>
   <g>
    <g transform="translate(328.05 1559.41)">
     <text><tspan x="0" y="-0.89" style="font-style: oblique; font-size: 19px">A</tspan><tspan x="13" y="2.23" style="font-style: oblique; font-size: 13.3px">V</tspan><tspan x="22.62" y="-0.89" style="font-size: 19px"> = 23.9 ± 0.6</tspan></text>
    </g>
   </g>
   <g>
    <g transform="translate(327.1 1586.27)">
     <text><tspan x="0" y="-0.89" style="font-style: oblique; font-size: 19px">T</tspan><tspan x="11.61" y="2.23" style="font-style: oblique; font-size: 13.3px">rot</tspan><tspan x="34.03" y="-0.89" style="font-size: 19px">1 = 621.0 ± 54.0 K</tspan></text>
    </g>
   </g>
   <g>
    <g transform="translate(327.1 1613.14)">
     <text><tspan x="0" y="-0.89" style="font-style: oblique; font-size: 19px">T</tspan><tspan x="11.61" y="2.23" style="font-style: oblique; font-size: 13.3px">rot</tspan><tspan x="34.03" y="-0.89" style="font-size: 19px">2 = 840.0 ± 96.0 K</tspan></text>
    </g>
   </g>
   <g>
    <text style="font-size: 18px; text-anchor: middle" x="312.16" y="1327.68">Aperture 5</text>
   </g>
   <g>
    <g>
     <path d="M 312.17 1475.22 L 552.66 1475.22 Q 556.46 1475.22 556.46 1471.42 L 556.46 1389.65 Q 556.46 1385.85 552.66 1385.85 L 312.17 1385.85 Q 308.37 1385.85 308.37 1389.65 L 308.37 1471.42 Q 308.37 1475.22 312.17 1475.22 z" style="fill: #ffffff; opacity: 0.8; stroke: #cccccc; stroke-linejoin: miter" />
    </g>
    <g>
     <path d="M 315.97 1401.24 L 334.97 1401.24 L 353.97 1401.24" style="fill: none; stroke-dasharray: 8.3768,3.6224; stroke-dashoffset: 0; stroke: #0000ff; stroke-width: 2.264" />
    </g>
    <g>
     <text style="font-size: 19px; text-anchor: start" x="367.46" y="1407.89">Fit</text>
    </g>
    <g>
     <path d="M 334.97 1438.63 L 334.97 1419.63" style="fill: none; stroke: #ff0000; stroke-width: 0.8" />
    </g>
    <g>
     <g>
      <path d="M342.67 1438.63L327.27 1438.63" style="fill: #ff0000; stroke: #ff0000; stroke-width: 0.8" />
     </g>
    </g>
    <g>
     <g>
      <path d="M342.67 1419.63L327.27 1419.63" style="fill: #ff0000; stroke: #ff0000; stroke-width: 0.8" />
     </g>
    </g>
    <g />
    <g>
     <g>
      <circle cx="334.97" cy="1429.13" r="3.7" style="fill: #ff0000; stroke: #ff0000" />
     </g>
    </g>
    <g>
     <text style="font-size: 19px; text-anchor: start" x="367.46" y="1435.78">Observed points</text>
    </g>
    <g>
     <path d="M 334.97 1466.52 L 334.97 1447.52" style="fill: none; stroke: #0000ff; stroke-width: 0.8" />
    </g>
    <g>
     <g>
      <path d="M342.67 1466.52L327.27 1466.52" style="fill: #0000ff; stroke: #0000ff; stroke-width: 0.8" />
     </g>
    </g>
    <g>
     <g>
      <path d="M342.67 1447.52L327.27 1447.52" style="fill: #0000ff; stroke: #0000ff; stroke-width: 0.8" />
     </g>
    </g>
    <g />
    <g>
     <g>
      <circle cx="334.97" cy="1457.02" r="3.7" style="fill: #0000ff; stroke: #0000ff" />
     </g>
    </g>
    <g>
     <text style="font-size: 19px; text-anchor: start" x="367.46" y="1463.67">Dereddened points</text>
    </g>
   </g>
  </g>
  <g>
   <g>
    <g>
     <g>
      <g>
       <path d="M106.67 1376.35L106.67 1370.95" style="stroke: #000000; stroke-width: 0.8" />
      </g>
     </g>
     <g>
      <text style="font-size: 19px; text-anchor: middle" x="106.67" y="1364.25">S(1)</text>
     </g>
    </g>
    <g>
     <g>
      <g>
       <path d="M161.34 1376.35L161.34 1370.95" style="stroke: #000000; stroke-width: 0.8" />
      </g>
     </g>
     <g>
      <text style="font-size: 19px; text-anchor: middle" x="161.34" y="1364.25">S(2)</text>
     </g>
    </g>
    <g>
     <g>
      <g>
       <path d="M228.72 1376.35L228.72 1370.95" style="stroke: #000000; stroke-width: 0.8" />
      </g>
     </g>
     <g>
      <text style="font-size: 19px; text-anchor: middle" x="228.72" y="1364.25">S(3)</text>
     </g>
    </g>
    <g>
     <g>
      <g>
       <path d="M308.22 1376.35L308.22 1370.95" style="stroke: #000000; stroke-width: 0.8" />
      </g>
     </g>
     <g>
      <text style="font-size: 19px; text-anchor: middle" x="308.22" y="1364.25">S(4)</text>
     </g>
    </g>
    <g>
     <g>
      <g>
       <path d="M399.37 1376.35L399.37 1370.95" style="stroke: #000000; stroke-width: 0.8" />
      </g>
     </g>
     <g>
      <text style="font-size: 19px; text-anchor: middle" x="399.37" y="1364.25">S(5)</text>
     </g>
    </g>
    <g>
     <g>
      <g>
       <path d="M501.25 1376.35L501.25 1370.95" style="stroke: #000000; stroke-width: 0.8" />
      </g>
     </g>
     <g>
      <text style="font-size: 19px; text-anchor: middle" x="501.25" y="1364.25">S(6)</text>
     </g>
    </g>
    <g>
     <text style="font-weight: 700; font-size: 19px; text-anchor: middle" x="312.16" y="1346.68">Transition</text>
    </g>
   </g>
   <g>
    <path d="M 59.08 1879.13 L 59.08 1376.35" style="fill: none; stroke: #000000; stroke-width: 2.35; stroke-linejoin: miter; stroke-linecap: square" />
   </g>
   <g>
    <path d="M 565.24 1879.13 L 565.24 1376.35" style="fill: none; stroke: #000000; stroke-width: 2.35; stroke-linejoin: miter; stroke-linecap: square" />
   </g>
   <g>
    <path d="M 59.08 1879.13 L 565.24 1879.13" style="fill: none; stroke: #000000; stroke-width: 2.35; stroke-linejoin: miter; stroke-linecap: square" />
   </g>
   <g>
    <path d="M 59.08 1376.35 L 565.24 1376.35" style="fill: none; stroke: #000000; stroke-width: 2.35; stroke-linejoin: miter; stroke-linecap: square" />
   </g>
  </g>
  <g>
   <g>
    <path d="M 712.15 1879.13 L 1218.31 1879.13 L 1218.31 1376.35 L 712.15 1376.35 z" style="fill: #ffffff" />
   </g>
   <g>
    <g>
     <g>
      <g>
       <path d="M758.52 1879.13L758.52 1884.53" style="stroke: #000000; stroke-width: 0.8" />
      </g>
     </g>
     <g>
      <text style="font-size: 19px; text-anchor: middle" x="758.52" y="1902.47">1000</text>
     </g>
    </g>
    <g>
     <g>
      <g>
       <path d="M840.48 1879.13L840.48 1884.53" style="stroke: #000000; stroke-width: 0.8" />
      </g>
     </g>
     <g>
      <text style="font-size: 19px; text-anchor: middle" x="840.48" y="1902.47">2000</text>
     </g>
    </g>
    <g>
     <g>
      <g>
       <path d="M922.45 1879.13L922.45 1884.53" style="stroke: #000000; stroke-width: 0.8" />
      </g>
     </g>
     <g>
      <text style="font-size: 19px; text-anchor: middle" x="922.45" y="1902.47">3000</text>
     </g>
    </g>
    <g>
     <g>
      <g>
       <path d="M1004.41 1879.13L1004.41 1884.53" style="stroke: #000000; stroke-width: 0.8" />
      </g>
     </g>
     <g>
      <text style="font-size: 19px; text-anchor: middle" x="1004.41" y="1902.47">4000</text>
     </g>
    </g>
    <g>
     <g>
      <g>
       <path d="M1086.37 1879.13L1086.37 1884.53" style="stroke: #000000; stroke-width: 0.8" />
      </g>
     </g>
     <g>
      <text style="font-size: 19px; text-anchor: middle" x="1086.37" y="1902.47">5000</text>
     </g>
    </g>
    <g>
     <g>
      <g>
       <path d="M1168.34 1879.13L1168.34 1884.53" style="stroke: #000000; stroke-width: 0.8" />
      </g>
     </g>
     <g>
      <text style="font-size: 19px; text-anchor: middle" x="1168.34" y="1902.47">6000</text>
     </g>
    </g>
    <g>
     <g transform="translate(935.75 1925.35)">
      <text><tspan x="0" y="-0.58" style="font-weight: 700; font-size: 19px">E</tspan><tspan x="22.11" y="-0.58" style="font-weight: 700; font-size: 19px"> (K)</tspan><tspan x="13.16" y="2.54" style="font-style: oblique; font-size: 13.3px">u</tspan></text>
     </g>
    </g>
   </g>
   <g>
    <g>
     <g>
      <g>
       <path d="M712.15 1839.74L706.75 1839.74" style="stroke: #000000; stroke-width: 0.8" />
      </g>
     </g>
     <g>
      <text style="font-size: 19px; text-anchor: end" x="703.85" y="1846.96">9</text>
     </g>
    </g>
    <g>
     <g>
      <g>
       <path d="M712.15 1783.3L706.75 1783.3" style="stroke: #000000; stroke-width: 0.8" />
      </g>
     </g>
     <g>
      <text style="font-size: 19px; text-anchor: end" x="703.85" y="1790.51">10</text>
     </g>
    </g>
    <g>
     <g>
      <g>
       <path d="M712.15 1726.85L706.75 1726.85" style="stroke: #000000; stroke-width: 0.8" />
      </g>
     </g>
     <g>
      <text style="font-size: 19px; text-anchor: end" x="703.85" y="1734.07">11</text>
     </g>
    </g>
    <g>
     <g>
      <g>
       <path d="M712.15 1670.4L706.75 1670.4" style="stroke: #000000; stroke-width: 0.8" />
      </g>
     </g>
     <g>
      <text style="font-size: 19px; text-anchor: end" x="703.85" y="1677.62">12</text>
     </g>
    </g>
    <g>
     <g>
      <g>
       <path d="M712.15 1613.95L706.75 1613.95" style="stroke: #000000; stroke-width: 0.8" />
      </g>
     </g>
     <g>
      <text style="font-size: 19px; text-anchor: end" x="703.85" y="1621.17">13</text>
     </g>
    </g>
    <g>
     <g>
      <g>
       <path d="M712.15 1557.5L706.75 1557.5" style="stroke: #000000; stroke-width: 0.8" />
      </g>
     </g>
     <g>
      <text style="font-size: 19px; text-anchor: end" x="703.85" y="1564.72">14</text>
     </g>
    </g>
    <g>
     <g>
      <g>
       <path d="M712.15 1501.06L706.75 1501.06" style="stroke: #000000; stroke-width: 0.8" />
      </g>
     </g>
     <g>
      <text style="font-size: 19px; text-anchor: end" x="703.85" y="1508.27">15</text>
     </g>
    </g>
    <g>
     <g>
      <g>
       <path d="M712.15 1444.61L706.75 1444.61" style="stroke: #000000; stroke-width: 0.8" />
      </g>
     </g>
     <g>
      <text style="font-size: 19px; text-anchor: end" x="703.85" y="1451.83">16</text>
     </g>
    </g>
    <g>
     <g>
      <g>
       <path d="M712.15 1388.16L706.75 1388.16" style="stroke: #000000; stroke-width: 0.8" />
      </g>
     </g>
     <g>
      <text style="font-size: 19px; text-anchor: end" x="703.85" y="1395.38">17</text>
     </g>
    </g>
    <g>
     <g transform="translate(671.49 1715.5) rotate(-90)">
      <text><tspan x="0" y="-0.85" style="font-weight: 700; font-size: 19px">ln (N</tspan><tspan x="60.37" y="-0.85" style="font-weight: 700; font-size: 19px">/g</tspan><tspan x="90.04" y="-0.85" style="font-weight: 700; font-size: 19px">) (cm</tspan><tspan x="165.39" y="-0.85" style="font-weight: 700; font-size: 19px">)</tspan><tspan x="51.42" y="2.27" style="font-style: oblique; font-size: 13.3px">u</tspan><tspan x="81.09" y="2.27" style="font-style: oblique; font-size: 13.3px">u</tspan><tspan x="145.26" y="-8.12" style="font-size: 13.3px">−2</tspan></text>
     </g>
    </g>
   </g>
   <g>
    <path d="M 759.75 1537.2 L 759.75 1532.3" clip-path="url(#p9bbf45c2a8)" style="fill: none; stroke: #ff0000; stroke-width: 0.8" />
    <path d="M 814.42 1616.08 L 814.42 1611.83" clip-path="url(#p9bbf45c2a8)" style="fill: none; stroke: #ff0000; stroke-width: 0.8" />
    <path d="M 881.79 1771.16 L 881.79 1767.2" clip-path="url(#p9bbf45c2a8)" style="fill: none; stroke: #ff0000; stroke-width: 0.8" />
    <path d="M 961.3 1724.26 L 961.3 1720.66" clip-path="url(#p9bbf45c2a8)" style="fill: none; stroke: #ff0000; stroke-width: 0.8" />
    <path d="M 1052.44 1800.76 L 1052.44 1796.51" clip-path="url(#p9bbf45c2a8)" style="fill: none; stroke: #ff0000; stroke-width: 0.8" />
    <path d="M 1154.32 1856.88 L 1154.32 1849.1" clip-path="url(#p9bbf45c2a8)" style="fill: none; stroke: #ff0000; stroke-width: 0.8" />
   </g>
   <g>
    <g clip-path="url(#p9bbf45c2a8)">
     <path d="M767.45 1537.2L752.05 1537.2" style="fill: #ff0000; stroke: #ff0000; stroke-width: 0.8" />
     <path d="M822.12 1616.08L806.72 1616.08" style="fill: #ff0000; stroke: #ff0000; stroke-width: 0.8" />
     <path d="M889.49 1771.16L874.09 1771.16" style="fill: #ff0000; stroke: #ff0000; stroke-width: 0.8" />
     <path d="M969 1724.26L953.6 1724.26" style="fill: #ff0000; stroke: #ff0000; stroke-width: 0.8" />
     <path d="M1060.14 1800.76L1044.74 1800.76" style="fill: #ff0000; stroke: #ff0000; stroke-width: 0.8" />
     <path d="M1162.02 1856.88L1146.62 1856.88" style="fill: #ff0000; stroke: #ff0000; stroke-width: 0.8" />
    </g>
   </g>
   <g>
    <g clip-path="url(#p9bbf45c2a8)">
     <path d="M767.45 1532.3L752.05 1532.3" style="fill: #ff0000; stroke: #ff0000; stroke-width: 0.8" />
     <path d="M822.12 1611.83L806.72 1611.83" style="fill: #ff0000; stroke: #ff0000; stroke-width: 0.8" />
     <path d="M889.49 1767.2L874.09 1767.2" style="fill: #ff0000; stroke: #ff0000; stroke-width: 0.8" />
     <path d="M969 1720.66L953.6 1720.66" style="fill: #ff0000; stroke: #ff0000; stroke-width: 0.8" />
     <path d="M1060.14 1796.51L1044.74 1796.51" style="fill: #ff0000; stroke: #ff0000; stroke-width: 0.8" />
     <path d="M1162.02 1849.1L1146.62 1849.1" style="fill: #ff0000; stroke: #ff0000; stroke-width: 0.8" />
    </g>
   </g>
   <g>
    <path d="M 759.75 1429.74 L 759.75 1423.62" clip-path="url(#p9bbf45c2a8)" style="fill: none; stroke: #0000ff; stroke-width: 0.8" />
    <path d="M 814.42 1474.27 L 814.42 1468.8" clip-path="url(#p9bbf45c2a8)" style="fill: none; stroke: #0000ff; stroke-width: 0.8" />
    <path d="M 881.79 1566.04 L 881.79 1559.92" clip-path="url(#p9bbf45c2a8)" style="fill: none; stroke: #0000ff; stroke-width: 0.8" />
    <path d="M 961.3 1629 L 961.3 1624.25" clip-path="url(#p9bbf45c2a8)" style="fill: none; stroke: #0000ff; stroke-width: 0.8" />
    <path d="M 1052.44 1728.07 L 1052.44 1723.03" clip-path="url(#p9bbf45c2a8)" style="fill: none; stroke: #0000ff; stroke-width: 0.8" />
    <path d="M 1154.32 1772.28 L 1154.32 1764.07" clip-path="url(#p9bbf45c2a8)" style="fill: none; stroke: #0000ff; stroke-width: 0.8" />
   </g>
   <g>
    <g clip-path="url(#p9bbf45c2a8)">
     <path d="M767.45 1429.74L752.05 1429.74" style="fill: #0000ff; stroke: #0000ff; stroke-width: 0.8" />
     <path d="M822.12 1474.27L806.72 1474.27" style="fill: #0000ff; stroke: #0000ff; stroke-width: 0.8" />
     <path d="M889.49 1566.04L874.09 1566.04" style="fill: #0000ff; stroke: #0000ff; stroke-width: 0.8" />
     <path d="M969 1629L953.6 1629" style="fill: #0000ff; stroke: #0000ff; stroke-width: 0.8" />
     <path d="M1060.14 1728.07L1044.74 1728.07" style="fill: #0000ff; stroke: #0000ff; stroke-width: 0.8" />
     <path d="M1162.02 1772.28L1146.62 1772.28" style="fill: #0000ff; stroke: #0000ff; stroke-width: 0.8" />
    </g>
   </g>
   <g>
    <g clip-path="url(#p9bbf45c2a8)">
     <path d="M767.45 1423.62L752.05 1423.62" style="fill: #0000ff; stroke: #0000ff; stroke-width: 0.8" />
     <path d="M822.12 1468.8L806.72 1468.8" style="fill: #0000ff; stroke: #0000ff; stroke-width: 0.8" />
     <path d="M889.49 1559.92L874.09 1559.92" style="fill: #0000ff; stroke: #0000ff; stroke-width: 0.8" />
     <path d="M969 1624.25L953.6 1624.25" style="fill: #0000ff; stroke: #0000ff; stroke-width: 0.8" />
     <path d="M1060.14 1723.03L1044.74 1723.03" style="fill: #0000ff; stroke: #0000ff; stroke-width: 0.8" />
     <path d="M1162.02 1764.07L1146.62 1764.07" style="fill: #0000ff; stroke: #0000ff; stroke-width: 0.8" />
    </g>
   </g>
   <g>
    <path d="M 735.16 1399.21 L 1002.28 1672.96" clip-path="url(#p9bbf45c2a8)" style="fill: none; stroke: #0000ff; stroke-width: 2.264; stroke-linecap: square" />
   </g>
   <g>
    <path d="M 857.2 1549.01 L 1195.3 1812.71" clip-path="url(#p9bbf45c2a8)" style="fill: none; stroke-dasharray: 8.3768,3.6224; stroke-dashoffset: 0; stroke: #0000ff; stroke-width: 2.264" />
   </g>
   <g>
    <g clip-path="url(#p9bbf45c2a8)">
     <circle cx="759.75" cy="1534.75" r="3.7" style="fill: #ff0000; stroke: #ff0000" />
     <circle cx="814.42" cy="1613.95" r="3.7" style="fill: #ff0000; stroke: #ff0000" />
     <circle cx="881.79" cy="1769.18" r="3.7" style="fill: #ff0000; stroke: #ff0000" />
     <circle cx="961.3" cy="1722.46" r="3.7" style="fill: #ff0000; stroke: #ff0000" />
     <circle cx="1052.44" cy="1798.63" r="3.7" style="fill: #ff0000; stroke: #ff0000" />
     <circle cx="1154.32" cy="1852.99" r="3.7" style="fill: #ff0000; stroke: #ff0000" />
    </g>
   </g>
   <g>
    <g clip-path="url(#p9bbf45c2a8)">
     <circle cx="759.75" cy="1426.68" r="3.7" style="fill: #0000ff; stroke: #0000ff" />
     <circle cx="814.42" cy="1471.54" r="3.7" style="fill: #0000ff; stroke: #0000ff" />
     <circle cx="881.79" cy="1562.98" r="3.7" style="fill: #0000ff; stroke: #0000ff" />
     <circle cx="961.3" cy="1626.62" r="3.7" style="fill: #0000ff; stroke: #0000ff" />
     <circle cx="1052.44" cy="1725.55" r="3.7" style="fill: #0000ff; stroke: #0000ff" />
     <circle cx="1154.32" cy="1768.18" r="3.7" style="fill: #0000ff; stroke: #0000ff" />
    </g>
   </g>
   <g>
    <path d="M 712.15 1879.13 L 712.15 1376.35" style="fill: none; stroke: #000000; stroke-width: 2.35; stroke-linejoin: miter; stroke-linecap: square" />
   </g>
   <g>
    <path d="M 1218.31 1879.13 L 1218.31 1376.35" style="fill: none; stroke: #000000; stroke-width: 2.35; stroke-linejoin: miter; stroke-linecap: square" />
   </g>
   <g>
    <path d="M 712.15 1879.13 L 1218.31 1879.13" style="fill: none; stroke: #000000; stroke-width: 2.35; stroke-linejoin: miter; stroke-linecap: square" />
   </g>
   <g>
    <path d="M 712.15 1376.35 L 1218.31 1376.35" style="fill: none; stroke: #000000; stroke-width: 2.35; stroke-linejoin: miter; stroke-linecap: square" />
   </g>
   <g>
    <g transform="translate(981.12 1558.35)">
     <text><tspan x="0" y="-0.89" style="font-style: oblique; font-size: 19px">A</tspan><tspan x="13" y="2.23" style="font-style: oblique; font-size: 13.3px">V</tspan><tspan x="22.62" y="-0.89" style="font-size: 19px"> = 24.2 ± 0.</tspan><tspan x="136.55" y="-0.89" style="font-size: 19px">7</tspan></text>
    </g>
   </g>
   <g>
    <g transform="translate(980.17 1586.58)">
     <text><tspan x="0" y="-0.89" style="font-style: oblique; font-size: 19px">T</tspan><tspan x="11.61" y="2.23" style="font-style: oblique; font-size: 13.3px">rot</tspan><tspan x="34.03" y="-0.89" style="font-size: 19px">1 = 672.0 ± 46.0 K</tspan></text>
    </g>
   </g>
   <g>
    <g transform="translate(980.17 1614.8)">
     <text><tspan x="0" y="-0.89" style="font-style: oblique; font-size: 19px">T</tspan><tspan x="11.61" y="2.23" style="font-style: oblique; font-size: 13.3px">rot</tspan><tspan x="34.03" y="-0.89" style="font-size: 19px">2 = 883.0 ± 101.0 K</tspan></text>
    </g>
   </g>
   <g>
    <text style="font-size: 18px; text-anchor: middle" x="965.23" y="1327.68">Aperture 6</text>
   </g>
   <g>
    <g>
     <path d="M 965.25 1475.22 L 1205.73 1475.22 Q 1209.53 1475.22 1209.53 1471.42 L 1209.53 1389.65 Q 1209.53 1385.85 1205.73 1385.85 L 965.25 1385.85 Q 961.45 1385.85 961.45 1389.65 L 961.45 1471.42 Q 961.45 1475.22 965.25 1475.22 z" style="fill: #ffffff; opacity: 0.8; stroke: #cccccc; stroke-linejoin: miter" />
    </g>
    <g>
     <path d="M 969.05 1401.24 L 988.05 1401.24 L 1007.05 1401.24" style="fill: none; stroke-dasharray: 8.3768,3.6224; stroke-dashoffset: 0; stroke: #0000ff; stroke-width: 2.264" />
    </g>
    <g>
     <text style="font-size: 19px; text-anchor: start" x="1020.54" y="1407.89">Fit</text>
    </g>
    <g>
     <path d="M 988.05 1438.63 L 988.05 1419.63" style="fill: none; stroke: #ff0000; stroke-width: 0.8" />
    </g>
    <g>
     <g>
      <path d="M995.75 1438.63L980.35 1438.63" style="fill: #ff0000; stroke: #ff0000; stroke-width: 0.8" />
     </g>
    </g>
    <g>
     <g>
      <path d="M995.75 1419.63L980.35 1419.63" style="fill: #ff0000; stroke: #ff0000; stroke-width: 0.8" />
     </g>
    </g>
    <g />
    <g>
     <g>
      <circle cx="988.05" cy="1429.13" r="3.7" style="fill: #ff0000; stroke: #ff0000" />
     </g>
    </g>
    <g>
     <text style="font-size: 19px; text-anchor: start" x="1020.54" y="1435.78">Observed points</text>
    </g>
    <g>
     <path d="M 988.05 1466.52 L 988.05 1447.52" style="fill: none; stroke: #0000ff; stroke-width: 0.8" />
    </g>
    <g>
     <g>
      <path d="M995.75 1466.52L980.35 1466.52" style="fill: #0000ff; stroke: #0000ff; stroke-width: 0.8" />
     </g>
    </g>
    <g>
     <g>
      <path d="M995.75 1447.52L980.35 1447.52" style="fill: #0000ff; stroke: #0000ff; stroke-width: 0.8" />
     </g>
    </g>
    <g />
    <g>
     <g>
      <circle cx="988.05" cy="1457.02" r="3.7" style="fill: #0000ff; stroke: #0000ff" />
     </g>
    </g>
    <g>
     <text style="font-size: 19px; text-anchor: start" x="1020.54" y="1463.67">Dereddened points</text>
    </g>
   </g>
  </g>
  <g>
   <g>
    <g>
     <g>
      <g>
       <path d="M759.75 1376.35L759.75 1370.95" style="stroke: #000000; stroke-width: 0.8" />
      </g>
     </g>
     <g>
      <text style="font-size: 19px; text-anchor: middle" x="759.75" y="1364.25">S(1)</text>
     </g>
    </g>
    <g>
     <g>
      <g>
       <path d="M814.42 1376.35L814.42 1370.95" style="stroke: #000000; stroke-width: 0.8" />
      </g>
     </g>
     <g>
      <text style="font-size: 19px; text-anchor: middle" x="814.42" y="1364.25">S(2)</text>
     </g>
    </g>
    <g>
     <g>
      <g>
       <path d="M881.79 1376.35L881.79 1370.95" style="stroke: #000000; stroke-width: 0.8" />
      </g>
     </g>
     <g>
      <text style="font-size: 19px; text-anchor: middle" x="881.79" y="1364.25">S(3)</text>
     </g>
    </g>
    <g>
     <g>
      <g>
       <path d="M961.3 1376.35L961.3 1370.95" style="stroke: #000000; stroke-width: 0.8" />
      </g>
     </g>
     <g>
      <text style="font-size: 19px; text-anchor: middle" x="961.3" y="1364.25">S(4)</text>
     </g>
    </g>
    <g>
     <g>
      <g>
       <path d="M1052.44 1376.35L1052.44 1370.95" style="stroke: #000000; stroke-width: 0.8" />
      </g>
     </g>
     <g>
      <text style="font-size: 19px; text-anchor: middle" x="1052.44" y="1364.25">S(5)</text>
     </g>
    </g>
    <g>
     <g>
      <g>
       <path d="M1154.32 1376.35L1154.32 1370.95" style="stroke: #000000; stroke-width: 0.8" />
      </g>
     </g>
     <g>
      <text style="font-size: 19px; text-anchor: middle" x="1154.32" y="1364.25">S(6)</text>
     </g>
    </g>
    <g>
     <text style="font-weight: 700; font-size: 19px; text-anchor: middle" x="965.23" y="1346.68">Transition</text>
    </g>
   </g>
   <g>
    <path d="M 712.15 1879.13 L 712.15 1376.35" style="fill: none; stroke: #000000; stroke-width: 2.35; stroke-linejoin: miter; stroke-linecap: square" />
   </g>
   <g>
    <path d="M 1218.31 1879.13 L 1218.31 1376.35" style="fill: none; stroke: #000000; stroke-width: 2.35; stroke-linejoin: miter; stroke-linecap: square" />
   </g>
   <g>
    <path d="M 712.15 1879.13 L 1218.31 1879.13" style="fill: none; stroke: #000000; stroke-width: 2.35; stroke-linejoin: miter; stroke-linecap: square" />
   </g>
   <g>
    <path d="M 712.15 1376.35 L 1218.31 1376.35" style="fill: none; stroke: #000000; stroke-width: 2.35; stroke-linejoin: miter; stroke-linecap: square" />
   </g>
  </g>
 </g>
 <defs>
  <clipPath id="p3b5efa5319">
   <rect x="59.08" y="62.71" width="506.16" height="502.776" />
  </clipPath>
  <clipPath id="pbabdf00de8">
   <rect x="712.15" y="62.71" width="506.16" height="502.776" />
  </clipPath>
  <clipPath id="pd9541ca4ed">
   <rect x="59.08" y="719.64" width="506.16" height="502.776" />
  </clipPath>
  <clipPath id="pca8c2dbba2">
   <rect x="712.15" y="719.64" width="506.16" height="502.776" />
  </clipPath>
  <clipPath id="p16efa5314b">
   <rect x="59.08" y="1376.35" width="506.16" height="502.776" />
  </clipPath>
  <clipPath id="p9bbf45c2a8">
   <rect x="712.15" y="1376.35" width="506.16" height="502.776" />
  </clipPath>
 </defs>
</svg>
</body></html>
